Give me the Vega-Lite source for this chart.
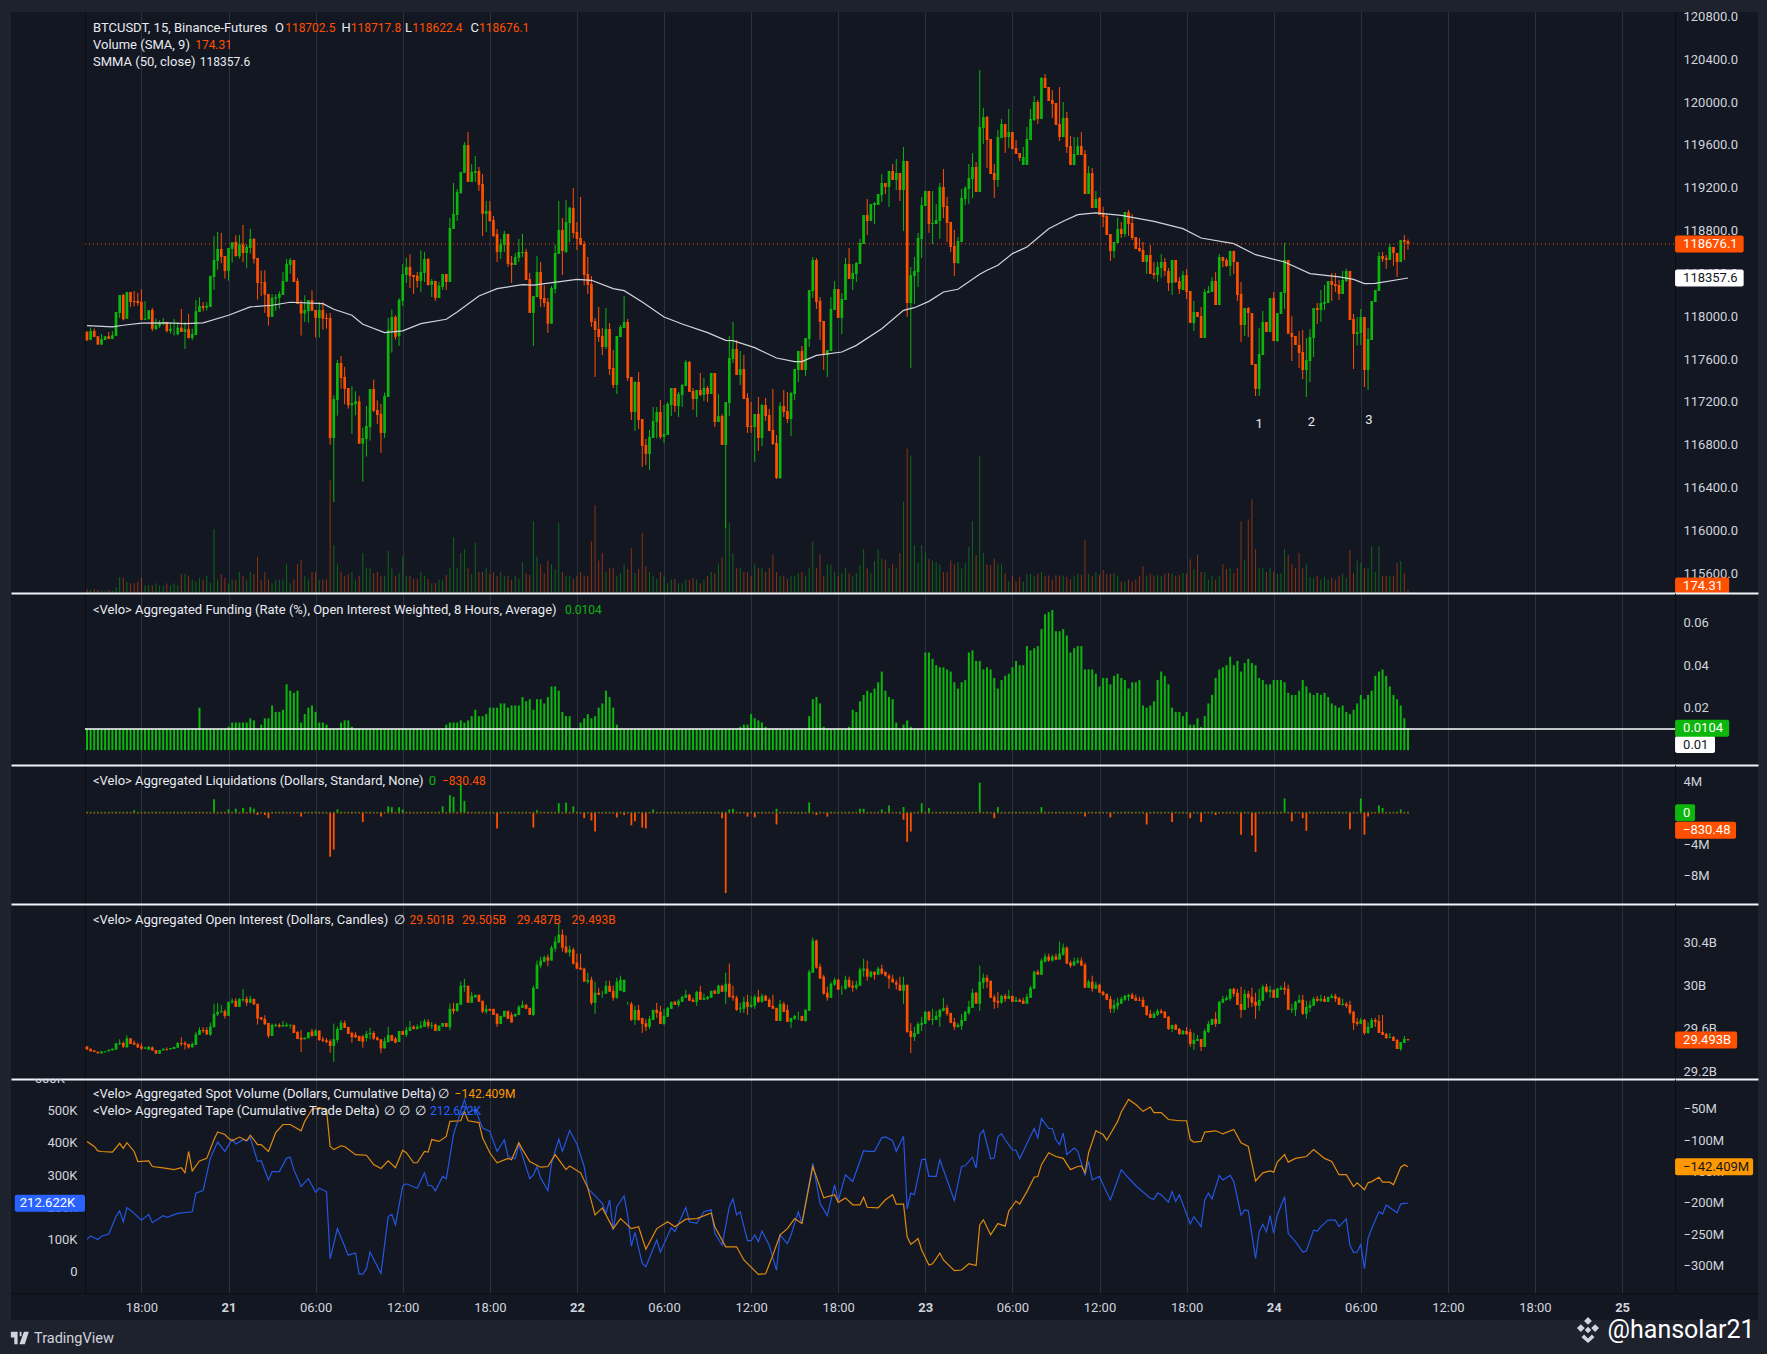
{
"$schema":"https://vega.github.io/schema/vega-lite/v6.json",
"background":"#1e222d",
"padding":{"left":10,"top":10,"right":10,"bottom":0},
"bounds":"flush",
"spacing":0,
"config":{
"view":{"fill":"#131722","stroke":null},
"axis":{"labelFont":"Roboto","labelFontSize":13,"labelColor":"#d1d4dc","title":null,"ticks":false,"grid":false,"domainColor":"#0b0d13","labelPadding":8},
"text":{"font":"Roboto","fontSize":13,"align":"left","baseline":"middle"}
},
"datasets":{
"bars":[
{"i":0,"o":117853,"h":117863,"l":117769,"c":117776,"v":200,"f":0.01,"u":0.1,"d":-0.1,"oo":29435,"oh":29435,"ol":29404,"oc":29404},
{"i":1,"o":117782,"h":117894,"l":117776,"c":117863,"v":150,"f":0.01,"u":0.1,"d":-0.1,"oo":29413,"oh":29413,"ol":29388,"oc":29388},
{"i":2,"o":117863,"h":117885,"l":117807,"c":117807,"v":200,"f":0.01,"u":0.1,"d":-0.1,"oo":29397,"oh":29397,"ol":29382,"oc":29382},
{"i":3,"o":117813,"h":117813,"l":117735,"c":117735,"v":150,"f":0.01,"u":0.1,"d":-0.1,"oo":29385,"oh":29385,"ol":29369,"oc":29369},
{"i":4,"o":117735,"h":117832,"l":117735,"c":117788,"v":100,"f":0.01,"u":0.1,"d":-0.1,"oo":29369,"oh":29388,"ol":29369,"oc":29388},
{"i":5,"o":117779,"h":117813,"l":117779,"c":117813,"v":100,"f":0.01,"u":0.1,"d":-0.1,"oo":29379,"oh":29388,"ol":29379,"oc":29388},
{"i":6,"o":117813,"h":117853,"l":117788,"c":117788,"v":150,"f":0.01,"u":0.1,"d":-0.1,"oo":29388,"oh":29404,"ol":29388,"oc":29404},
{"i":7,"o":117788,"h":117860,"l":117788,"c":117822,"v":100,"f":0.01,"u":0.1,"d":-0.1,"oo":29397,"oh":29413,"ol":29397,"oc":29413},
{"i":8,"o":117816,"h":118040,"l":117816,"c":118040,"v":300,"f":0.01,"u":0.1,"d":-0.1,"oo":29404,"oh":29463,"ol":29404,"oc":29463},
{"i":9,"o":118031,"h":118199,"l":117984,"c":118199,"v":800,"f":0.01,"u":0.1,"d":-0.1,"oo":29457,"oh":29500,"ol":29447,"oc":29466},
{"i":10,"o":118199,"h":118208,"l":117962,"c":117972,"v":760,"f":0.01,"u":0.1,"d":-0.1,"oo":29466,"oh":29482,"ol":29419,"oc":29432},
{"i":11,"o":117975,"h":118227,"l":117975,"c":118227,"v":570,"f":0.01,"u":0.1,"d":-0.1,"oo":29425,"oh":29538,"ol":29422,"oc":29510},
{"i":12,"o":118227,"h":118227,"l":118087,"c":118134,"v":480,"f":0.01,"u":0.1,"d":-0.1,"oo":29510,"oh":29510,"ol":29457,"oc":29457},
{"i":13,"o":118143,"h":118236,"l":118093,"c":118131,"v":480,"f":0.01,"u":0.3,"d":-0.1,"oo":29469,"oh":29488,"ol":29450,"oc":29450},
{"i":14,"o":118143,"h":118218,"l":118099,"c":118124,"v":570,"f":0.01,"u":0.1,"d":-0.1,"oo":29454,"oh":29469,"ol":29419,"oc":29425},
{"i":15,"o":118134,"h":118252,"l":117966,"c":117966,"v":760,"f":0.01,"u":0.1,"d":-0.1,"oo":29435,"oh":29463,"ol":29400,"oc":29413},
{"i":16,"o":117966,"h":118140,"l":117966,"c":117978,"v":380,"f":0.01,"u":0.1,"d":-0.1,"oo":29413,"oh":29425,"ol":29413,"oc":29425},
{"i":17,"o":117972,"h":118056,"l":117972,"c":118056,"v":380,"f":0.01,"u":0.1,"d":-0.1,"oo":29404,"oh":29432,"ol":29404,"oc":29432},
{"i":18,"o":118059,"h":118078,"l":117860,"c":117882,"v":380,"f":0.01,"u":0.1,"d":-0.1,"oo":29425,"oh":29435,"ol":29391,"oc":29397},
{"i":19,"o":117878,"h":117978,"l":117878,"c":117916,"v":480,"f":0.01,"u":0.1,"d":-0.1,"oo":29400,"oh":29400,"ol":29366,"oc":29366},
{"i":20,"o":117910,"h":117962,"l":117891,"c":117938,"v":380,"f":0.01,"u":0.1,"d":-0.1,"oo":29366,"oh":29400,"ol":29366,"oc":29400},
{"i":21,"o":117934,"h":117984,"l":117916,"c":117947,"v":380,"f":0.01,"u":0.1,"d":-0.1,"oo":29397,"oh":29413,"ol":29397,"oc":29413},
{"i":22,"o":117947,"h":117947,"l":117847,"c":117863,"v":480,"f":0.01,"u":0.1,"d":-0.1,"oo":29410,"oh":29425,"ol":29394,"oc":29404},
{"i":23,"o":117863,"h":117934,"l":117838,"c":117882,"v":380,"f":0.01,"u":0.1,"d":-0.1,"oo":29407,"oh":29419,"ol":29407,"oc":29419},
{"i":24,"o":117832,"h":117975,"l":117822,"c":117835,"v":480,"f":0.01,"u":0.1,"d":-0.1,"oo":29410,"oh":29429,"ol":29410,"oc":29429},
{"i":25,"o":117832,"h":117944,"l":117822,"c":117894,"v":380,"f":0.01,"u":0.1,"d":-0.1,"oo":29422,"oh":29475,"ol":29422,"oc":29466},
{"i":26,"o":117894,"h":118068,"l":117853,"c":117853,"v":950,"f":0.01,"u":0.1,"d":-0.1,"oo":29466,"oh":29519,"ol":29438,"oc":29457},
{"i":27,"o":117853,"h":117947,"l":117695,"c":117882,"v":950,"f":0.01,"u":0.1,"d":-0.1,"oo":29466,"oh":29482,"ol":29404,"oc":29450},
{"i":28,"o":117882,"h":118022,"l":117791,"c":117797,"v":860,"f":0.01,"u":0.1,"d":-0.1,"oo":29457,"oh":29457,"ol":29413,"oc":29425},
{"i":29,"o":117797,"h":117885,"l":117776,"c":117835,"v":670,"f":0.01,"u":0.1,"d":-0.1,"oo":29425,"oh":29472,"ol":29425,"oc":29457},
{"i":30,"o":117825,"h":118152,"l":117825,"c":118047,"v":570,"f":0.01,"u":0.1,"d":-0.1,"oo":29447,"oh":29569,"ol":29447,"oc":29547},
{"i":31,"o":118040,"h":118177,"l":118040,"c":118096,"v":760,"f":0.02,"u":0.1,"d":-0.1,"oo":29541,"oh":29613,"ol":29541,"oc":29588},
{"i":32,"o":118096,"h":118131,"l":118047,"c":118078,"v":670,"f":0.01,"u":0.1,"d":-0.1,"oo":29588,"oh":29613,"ol":29560,"oc":29578},
{"i":33,"o":118081,"h":118134,"l":118053,"c":118096,"v":860,"f":0.01,"u":0.1,"d":-0.1,"oo":29588,"oh":29613,"ol":29541,"oc":29547},
{"i":34,"o":118087,"h":118377,"l":118087,"c":118377,"v":500,"f":0.01,"u":0.1,"d":-0.1,"oo":29544,"oh":29657,"ol":29531,"oc":29619},
{"i":35,"o":118367,"h":118747,"l":118249,"c":118526,"v":3190,"f":0.01,"u":1.7,"d":-0.1,"oo":29613,"oh":29832,"ol":29613,"oc":29738},
{"i":36,"o":118517,"h":118788,"l":118433,"c":118629,"v":670,"f":0.01,"u":0.1,"d":-0.1,"oo":29732,"oh":29838,"ol":29719,"oc":29757},
{"i":37,"o":118629,"h":118778,"l":118495,"c":118554,"v":950,"f":0.01,"u":0.1,"d":-0.1,"oo":29753,"oh":29819,"ol":29750,"oc":29763},
{"i":38,"o":118563,"h":118563,"l":118352,"c":118423,"v":760,"f":0.01,"u":0.1,"d":-0.1,"oo":29763,"oh":29781,"ol":29694,"oc":29719},
{"i":39,"o":118423,"h":118638,"l":118333,"c":118638,"v":480,"f":0.011,"u":0.4,"d":-0.1,"oo":29719,"oh":29850,"ol":29719,"oc":29850},
{"i":40,"o":118629,"h":118691,"l":118501,"c":118691,"v":670,"f":0.013,"u":0.1,"d":-0.1,"oo":29844,"oh":29882,"ol":29835,"oc":29860},
{"i":41,"o":118694,"h":118756,"l":118554,"c":118563,"v":670,"f":0.013,"u":0.5,"d":-0.1,"oo":29860,"oh":29885,"ol":29803,"oc":29803},
{"i":42,"o":118560,"h":118760,"l":118538,"c":118672,"v":1050,"f":0.013,"u":0.1,"d":-0.1,"oo":29803,"oh":29885,"ol":29803,"oc":29875},
{"i":43,"o":118672,"h":118853,"l":118507,"c":118591,"v":860,"f":0.013,"u":0.6,"d":-0.1,"oo":29863,"oh":29969,"ol":29853,"oc":29875},
{"i":44,"o":118591,"h":118672,"l":118451,"c":118647,"v":670,"f":0.013,"u":0.1,"d":-0.1,"oo":29878,"oh":29900,"ol":29813,"oc":29841},
{"i":45,"o":118638,"h":118816,"l":118585,"c":118722,"v":1050,"f":0.015,"u":0.7,"d":-0.1,"oo":29841,"oh":29907,"ol":29841,"oc":29878},
{"i":46,"o":118722,"h":118731,"l":118492,"c":118535,"v":950,"f":0.014,"u":0.5,"d":-0.1,"oo":29878,"oh":29878,"ol":29825,"oc":29825},
{"i":47,"o":118545,"h":118545,"l":118155,"c":118311,"v":1815,"f":0.01,"u":0.1,"d":-0.3,"oo":29832,"oh":29832,"ol":29638,"oc":29694},
{"i":48,"o":118317,"h":118426,"l":118190,"c":118311,"v":670,"f":0.012,"u":0.1,"d":-0.1,"oo":29707,"oh":29707,"ol":29682,"oc":29685},
{"i":49,"o":118320,"h":118429,"l":118031,"c":118202,"v":1050,"f":0.015,"u":0.1,"d":-0.3,"oo":29691,"oh":29725,"ol":29635,"oc":29641},
{"i":50,"o":118208,"h":118208,"l":117913,"c":117994,"v":670,"f":0.015,"u":0.1,"d":-0.7,"oo":29653,"oh":29653,"ol":29513,"oc":29532},
{"i":51,"o":117994,"h":118205,"l":117994,"c":118171,"v":480,"f":0.021,"u":0.1,"d":-0.1,"oo":29532,"oh":29647,"ol":29532,"oc":29635},
{"i":52,"o":118165,"h":118205,"l":118050,"c":118180,"v":670,"f":0.018,"u":0.1,"d":-0.1,"oo":29625,"oh":29647,"ol":29616,"oc":29635},
{"i":53,"o":118171,"h":118233,"l":118071,"c":118208,"v":670,"f":0.018,"u":0.1,"d":-0.1,"oo":29635,"oh":29650,"ol":29610,"oc":29619},
{"i":54,"o":118199,"h":118414,"l":118199,"c":118330,"v":670,"f":0.019,"u":0.1,"d":-0.1,"oo":29619,"oh":29672,"ol":29619,"oc":29632},
{"i":55,"o":118324,"h":118535,"l":118324,"c":118489,"v":1430,"f":0.031,"u":0.1,"d":-0.1,"oo":29622,"oh":29657,"ol":29619,"oc":29635},
{"i":56,"o":118479,"h":118545,"l":118398,"c":118526,"v":480,"f":0.028,"u":0.1,"d":-0.1,"oo":29628,"oh":29641,"ol":29600,"oc":29635},
{"i":57,"o":118526,"h":118526,"l":118320,"c":118320,"v":670,"f":0.027,"u":0.1,"d":-0.1,"oo":29635,"oh":29635,"ol":29560,"oc":29560},
{"i":58,"o":118330,"h":118358,"l":118115,"c":118115,"v":1430,"f":0.028,"u":0.1,"d":-0.1,"oo":29569,"oh":29575,"ol":29503,"oc":29503},
{"i":59,"o":118118,"h":118149,"l":117819,"c":118025,"v":1660,"f":0.013,"u":0.1,"d":-0.5,"oo":29516,"oh":29588,"ol":29382,"oc":29497},
{"i":60,"o":118025,"h":118196,"l":117947,"c":118059,"v":860,"f":0.017,"u":0.1,"d":-0.1,"oo":29500,"oh":29516,"ol":29500,"oc":29516},
{"i":61,"o":118047,"h":118152,"l":117941,"c":118152,"v":670,"f":0.02,"u":0.1,"d":-0.1,"oo":29510,"oh":29566,"ol":29510,"oc":29566},
{"i":62,"o":118152,"h":118243,"l":118050,"c":118050,"v":1050,"f":0.021,"u":0.1,"d":-0.1,"oo":29575,"oh":29600,"ol":29525,"oc":29532},
{"i":63,"o":118059,"h":118059,"l":117801,"c":117984,"v":1050,"f":0.018,"u":0.1,"d":-0.1,"oo":29532,"oh":29594,"ol":29532,"oc":29582},
{"i":64,"o":117984,"h":118134,"l":117801,"c":118059,"v":670,"f":0.013,"u":0.1,"d":-0.1,"oo":29582,"oh":29582,"ol":29485,"oc":29494},
{"i":65,"o":118059,"h":118134,"l":117875,"c":117978,"v":670,"f":0.013,"u":0.1,"d":-0.1,"oo":29500,"oh":29525,"ol":29475,"oc":29485},
{"i":66,"o":117984,"h":118025,"l":117885,"c":117975,"v":670,"f":0.012,"u":0.1,"d":-0.1,"oo":29491,"oh":29513,"ol":29463,"oc":29475},
{"i":67,"o":117984,"h":118031,"l":116801,"c":116863,"v":5640,"f":0.01,"u":0.1,"d":-5.6,"oo":29485,"oh":29500,"ol":29375,"oc":29438},
{"i":68,"o":116863,"h":117262,"l":116266,"c":117225,"v":2390,"f":0.01,"u":0.1,"d":-4.7,"oo":29438,"oh":29647,"ol":29291,"oc":29503},
{"i":69,"o":117218,"h":117592,"l":117072,"c":117564,"v":1430,"f":0.01,"u":0.4,"d":-0.1,"oo":29494,"oh":29619,"ol":29469,"oc":29597},
{"i":70,"o":117564,"h":117629,"l":117324,"c":117424,"v":1050,"f":0.013,"u":0.1,"d":-0.1,"oo":29588,"oh":29678,"ol":29588,"oc":29657},
{"i":71,"o":117433,"h":117527,"l":117178,"c":117321,"v":860,"f":0.014,"u":0.1,"d":-0.1,"oo":29653,"oh":29675,"ol":29607,"oc":29607},
{"i":72,"o":117330,"h":117330,"l":117137,"c":117169,"v":950,"f":0.014,"u":0.1,"d":-0.1,"oo":29616,"oh":29616,"ol":29550,"oc":29550},
{"i":73,"o":117169,"h":117346,"l":116901,"c":117190,"v":1050,"f":0.011,"u":0.1,"d":-0.1,"oo":29560,"oh":29572,"ol":29469,"oc":29519},
{"i":74,"o":117178,"h":117299,"l":117075,"c":117206,"v":670,"f":0.01,"u":0.1,"d":-0.1,"oo":29544,"oh":29569,"ol":29513,"oc":29519},
{"i":75,"o":117206,"h":117253,"l":116810,"c":116810,"v":860,"f":0.01,"u":0.1,"d":-0.1,"oo":29532,"oh":29532,"ol":29485,"oc":29485},
{"i":76,"o":116810,"h":116960,"l":116456,"c":116863,"v":2000,"f":0.01,"u":0.1,"d":-1.2,"oo":29528,"oh":29541,"ol":29422,"oc":29478},
{"i":77,"o":116854,"h":117162,"l":116689,"c":116975,"v":1240,"f":0.01,"u":0.1,"d":-0.1,"oo":29513,"oh":29578,"ol":29482,"oc":29550},
{"i":78,"o":116966,"h":117321,"l":116839,"c":117321,"v":1240,"f":0.01,"u":0.1,"d":-0.1,"oo":29547,"oh":29607,"ol":29500,"oc":29560},
{"i":79,"o":117321,"h":117408,"l":117106,"c":117116,"v":1000,"f":0.01,"u":0.1,"d":-0.1,"oo":29560,"oh":29578,"ol":29494,"oc":29507},
{"i":80,"o":117125,"h":117215,"l":116994,"c":117078,"v":1050,"f":0.01,"u":0.1,"d":-0.1,"oo":29516,"oh":29528,"ol":29488,"oc":29494},
{"i":81,"o":117088,"h":117181,"l":116723,"c":116910,"v":860,"f":0.01,"u":0.1,"d":-0.5,"oo":29500,"oh":29500,"ol":29369,"oc":29416},
{"i":82,"o":116910,"h":117287,"l":116863,"c":117256,"v":860,"f":0.01,"u":0.1,"d":-0.1,"oo":29416,"oh":29519,"ol":29413,"oc":29485},
{"i":83,"o":117246,"h":117984,"l":117246,"c":117872,"v":2100,"f":0.01,"u":0.8,"d":-0.1,"oo":29475,"oh":29616,"ol":29469,"oc":29541},
{"i":84,"o":117863,"h":118062,"l":117660,"c":117994,"v":1240,"f":0.01,"u":0.7,"d":-0.1,"oo":29541,"oh":29541,"ol":29485,"oc":29485},
{"i":85,"o":117994,"h":118009,"l":117782,"c":117807,"v":860,"f":0.01,"u":0.1,"d":-0.1,"oo":29507,"oh":29522,"ol":29463,"oc":29469},
{"i":86,"o":117813,"h":118171,"l":117723,"c":118152,"v":1000,"f":0.01,"u":0.7,"d":-0.1,"oo":29475,"oh":29578,"ol":29475,"oc":29578},
{"i":87,"o":118143,"h":118489,"l":118096,"c":118395,"v":1815,"f":0.01,"u":0.4,"d":-0.1,"oo":29578,"oh":29578,"ol":29541,"oc":29541},
{"i":88,"o":118386,"h":118548,"l":118311,"c":118461,"v":860,"f":0.01,"u":0.1,"d":-0.1,"oo":29541,"oh":29619,"ol":29522,"oc":29588},
{"i":89,"o":118461,"h":118579,"l":118264,"c":118377,"v":860,"f":0.01,"u":0.1,"d":-0.1,"oo":29578,"oh":29672,"ol":29578,"oc":29613},
{"i":90,"o":118386,"h":118386,"l":118208,"c":118367,"v":700,"f":0.01,"u":0.1,"d":-0.1,"oo":29619,"oh":29632,"ol":29591,"oc":29597},
{"i":91,"o":118380,"h":118414,"l":118268,"c":118330,"v":700,"f":0.01,"u":0.1,"d":-0.1,"oo":29597,"oh":29641,"ol":29591,"oc":29619},
{"i":92,"o":118330,"h":118616,"l":118227,"c":118414,"v":1050,"f":0.01,"u":0.1,"d":-0.1,"oo":29610,"oh":29672,"ol":29600,"oc":29628},
{"i":93,"o":118405,"h":118601,"l":118320,"c":118535,"v":860,"f":0.01,"u":0.1,"d":-0.1,"oo":29616,"oh":29688,"ol":29616,"oc":29669},
{"i":94,"o":118535,"h":118545,"l":118286,"c":118292,"v":700,"f":0.01,"u":0.1,"d":-0.1,"oo":29663,"oh":29688,"ol":29603,"oc":29625},
{"i":95,"o":118292,"h":118349,"l":118180,"c":118330,"v":480,"f":0.01,"u":0.1,"d":-0.1,"oo":29622,"oh":29663,"ol":29597,"oc":29632},
{"i":96,"o":118330,"h":118330,"l":118143,"c":118171,"v":500,"f":0.01,"u":0.1,"d":-0.1,"oo":29638,"oh":29647,"ol":29578,"oc":29578},
{"i":97,"o":118171,"h":118320,"l":118171,"c":118286,"v":670,"f":0.01,"u":0.1,"d":-0.1,"oo":29578,"oh":29628,"ol":29578,"oc":29628},
{"i":98,"o":118274,"h":118395,"l":118246,"c":118395,"v":670,"f":0.01,"u":0.8,"d":-0.1,"oo":29619,"oh":29653,"ol":29619,"oc":29653},
{"i":99,"o":118395,"h":118395,"l":118246,"c":118320,"v":900,"f":0.012,"u":0.1,"d":-0.1,"oo":29653,"oh":29653,"ol":29616,"oc":29616},
{"i":100,"o":118320,"h":118918,"l":118320,"c":118825,"v":1240,"f":0.013,"u":2.2,"d":-0.1,"oo":29613,"oh":29835,"ol":29588,"oc":29785},
{"i":101,"o":118816,"h":119245,"l":118816,"c":118956,"v":2800,"f":0.013,"u":2,"d":-0.1,"oo":29785,"oh":29841,"ol":29735,"oc":29763},
{"i":102,"o":118946,"h":119189,"l":118890,"c":119161,"v":1240,"f":0.013,"u":0.1,"d":-0.1,"oo":29763,"oh":29841,"ol":29760,"oc":29835},
{"i":103,"o":119152,"h":119348,"l":119142,"c":119348,"v":2000,"f":0.014,"u":3.6,"d":-0.1,"oo":29822,"oh":30038,"ol":29822,"oc":30000},
{"i":104,"o":119339,"h":119628,"l":119339,"c":119600,"v":2200,"f":0.013,"u":1.5,"d":-0.1,"oo":29988,"oh":30066,"ol":29944,"oc":30000},
{"i":105,"o":119600,"h":119722,"l":119255,"c":119255,"v":1240,"f":0.014,"u":0.1,"d":-0.1,"oo":30000,"oh":30000,"ol":29841,"oc":29841},
{"i":106,"o":119255,"h":119420,"l":119255,"c":119348,"v":950,"f":0.016,"u":0.1,"d":-0.1,"oo":29841,"oh":29944,"ol":29841,"oc":29906},
{"i":107,"o":119339,"h":119497,"l":119255,"c":119357,"v":2520,"f":0.019,"u":0.1,"d":-0.1,"oo":29891,"oh":29916,"ol":29891,"oc":29916},
{"i":108,"o":119357,"h":119395,"l":119171,"c":119227,"v":1050,"f":0.016,"u":0.1,"d":-0.1,"oo":29916,"oh":29916,"ol":29850,"oc":29850},
{"i":109,"o":119236,"h":119329,"l":118750,"c":118956,"v":1050,"f":0.016,"u":0.1,"d":-0.1,"oo":29860,"oh":29860,"ol":29744,"oc":29757},
{"i":110,"o":118956,"h":119077,"l":118788,"c":118984,"v":1240,"f":0.017,"u":0.1,"d":-0.1,"oo":29757,"oh":29822,"ol":29738,"oc":29785},
{"i":111,"o":118984,"h":119077,"l":118881,"c":118890,"v":950,"f":0.02,"u":0.1,"d":-0.1,"oo":29785,"oh":29785,"ol":29766,"oc":29766},
{"i":112,"o":118900,"h":118937,"l":118741,"c":118750,"v":1050,"f":0.02,"u":0.1,"d":-0.1,"oo":29785,"oh":29785,"ol":29728,"oc":29728},
{"i":113,"o":118769,"h":118816,"l":118507,"c":118601,"v":860,"f":0.02,"u":0.1,"d":-2,"oo":29738,"oh":29744,"ol":29616,"oc":29644},
{"i":114,"o":118601,"h":118722,"l":118535,"c":118672,"v":1050,"f":0.022,"u":0.1,"d":-0.1,"oo":29644,"oh":29719,"ol":29644,"oc":29719},
{"i":115,"o":118666,"h":118797,"l":118601,"c":118769,"v":860,"f":0.022,"u":0.1,"d":-0.1,"oo":29710,"oh":29766,"ol":29710,"oc":29766},
{"i":116,"o":118769,"h":118769,"l":118461,"c":118489,"v":860,"f":0.02,"u":0.1,"d":-0.1,"oo":29766,"oh":29766,"ol":29691,"oc":29691},
{"i":117,"o":118498,"h":118563,"l":118311,"c":118479,"v":670,"f":0.021,"u":0.1,"d":-0.1,"oo":29728,"oh":29753,"ol":29657,"oc":29657},
{"i":118,"o":118479,"h":118591,"l":118479,"c":118554,"v":860,"f":0.021,"u":0.1,"d":-0.1,"oo":29713,"oh":29738,"ol":29713,"oc":29738},
{"i":119,"o":118545,"h":118722,"l":118507,"c":118601,"v":700,"f":0.021,"u":0.1,"d":-0.1,"oo":29728,"oh":29819,"ol":29728,"oc":29803},
{"i":120,"o":118591,"h":118769,"l":118554,"c":118601,"v":1530,"f":0.025,"u":0.1,"d":-0.1,"oo":29794,"oh":29860,"ol":29794,"oc":29822},
{"i":121,"o":118601,"h":118629,"l":118339,"c":118339,"v":1000,"f":0.023,"u":0.1,"d":-0.1,"oo":29822,"oh":29832,"ol":29785,"oc":29785},
{"i":122,"o":118349,"h":118405,"l":118031,"c":118031,"v":900,"f":0.024,"u":0.1,"d":-0.1,"oo":29794,"oh":29794,"ol":29728,"oc":29728},
{"i":123,"o":118031,"h":118189,"l":117722,"c":118189,"v":3600,"f":0.019,"u":0.1,"d":-1.9,"oo":29728,"oh":30000,"ol":29719,"oc":29981},
{"i":124,"o":118180,"h":118563,"l":118180,"c":118413,"v":1815,"f":0.024,"u":0.3,"d":-0.1,"oo":29972,"oh":30235,"ol":29972,"oc":30197},
{"i":125,"o":118413,"h":118507,"l":118087,"c":118161,"v":1430,"f":0.024,"u":0.1,"d":-0.1,"oo":30188,"oh":30272,"ol":30163,"oc":30235},
{"i":126,"o":118171,"h":118289,"l":118087,"c":118124,"v":1000,"f":0.022,"u":0.1,"d":-0.1,"oo":30225,"oh":30281,"ol":30219,"oc":30266},
{"i":127,"o":118133,"h":118171,"l":117844,"c":117931,"v":1620,"f":0.025,"u":0.1,"d":-0.1,"oo":30266,"oh":30291,"ol":30181,"oc":30235},
{"i":128,"o":117931,"h":118283,"l":117931,"c":118264,"v":1430,"f":0.03,"u":0.1,"d":-0.1,"oo":30235,"oh":30375,"ol":30235,"oc":30356},
{"i":129,"o":118255,"h":118669,"l":118211,"c":118591,"v":1200,"f":0.03,"u":0.1,"d":-0.1,"oo":30347,"oh":30460,"ol":30319,"oc":30413},
{"i":130,"o":118582,"h":119077,"l":118582,"c":118806,"v":3500,"f":0.028,"u":1.2,"d":-0.1,"oo":30403,"oh":30578,"ol":30397,"oc":30478},
{"i":131,"o":118806,"h":118918,"l":118386,"c":118610,"v":1050,"f":0.018,"u":0.1,"d":-0.1,"oo":30478,"oh":30525,"ol":30319,"oc":30356},
{"i":132,"o":118600,"h":119086,"l":118591,"c":118880,"v":860,"f":0.016,"u":1.3,"d":-0.1,"oo":30366,"oh":30469,"ol":30303,"oc":30310},
{"i":133,"o":118871,"h":119021,"l":118694,"c":119014,"v":860,"f":0.016,"u":0.1,"d":-0.1,"oo":30310,"oh":30375,"ol":30272,"oc":30338},
{"i":134,"o":119011,"h":119198,"l":118731,"c":118778,"v":700,"f":0.01,"u":0.8,"d":-0.1,"oo":30338,"oh":30356,"ol":30197,"oc":30206},
{"i":135,"o":118787,"h":118880,"l":118619,"c":118722,"v":860,"f":0.01,"u":0.1,"d":-0.1,"oo":30216,"oh":30300,"ol":30156,"oc":30159},
{"i":136,"o":118731,"h":119114,"l":118666,"c":118666,"v":1050,"f":0.013,"u":0.1,"d":-0.1,"oo":30169,"oh":30300,"ol":30150,"oc":30150},
{"i":137,"o":118675,"h":118703,"l":118289,"c":118386,"v":860,"f":0.015,"u":0.1,"d":-0.7,"oo":30160,"oh":30169,"ol":30038,"oc":30038},
{"i":138,"o":118395,"h":118554,"l":118208,"c":118292,"v":860,"f":0.017,"u":0.1,"d":-0.1,"oo":30038,"oh":30122,"ol":30019,"oc":30056},
{"i":139,"o":118301,"h":118376,"l":117900,"c":117947,"v":2580,"f":0.015,"u":0.1,"d":-1,"oo":30056,"oh":30085,"ol":29822,"oc":29841},
{"i":140,"o":117956,"h":117984,"l":117433,"c":117872,"v":4390,"f":0.016,"u":0.1,"d":-2.4,"oo":29841,"oh":30038,"ol":29738,"oc":29935},
{"i":141,"o":117881,"h":118087,"l":117760,"c":117806,"v":1620,"f":0.02,"u":0.1,"d":-0.1,"oo":29935,"oh":29981,"ol":29916,"oc":29916},
{"i":142,"o":117816,"h":117890,"l":117638,"c":117713,"v":2000,"f":0.022,"u":0.1,"d":-0.1,"oo":29925,"oh":29953,"ol":29888,"oc":29925},
{"i":143,"o":117713,"h":118077,"l":117694,"c":117881,"v":1050,"f":0.028,"u":0.1,"d":-0.1,"oo":29925,"oh":30047,"ol":29925,"oc":30000},
{"i":144,"o":117881,"h":117937,"l":117451,"c":117507,"v":1240,"f":0.025,"u":0.1,"d":-0.1,"oo":30000,"oh":30047,"ol":29944,"oc":29944},
{"i":145,"o":117517,"h":117685,"l":117330,"c":117358,"v":1240,"f":0.02,"u":0.1,"d":-0.1,"oo":29953,"oh":30000,"ol":29860,"oc":29888},
{"i":146,"o":117358,"h":117816,"l":117274,"c":117816,"v":860,"f":0.012,"u":0.1,"d":-0.6,"oo":29888,"oh":30075,"ol":29878,"oc":30038},
{"i":147,"o":117806,"h":117918,"l":117806,"c":117900,"v":1000,"f":0.01,"u":0.1,"d":-0.1,"oo":29953,"oh":30094,"ol":29953,"oc":30056},
{"i":148,"o":117890,"h":118189,"l":117890,"c":117947,"v":1430,"f":0.01,"u":0.1,"d":-0.3,"oo":29941,"oh":30056,"ol":29941,"oc":30056},
{"i":149,"o":117947,"h":117975,"l":117395,"c":117423,"v":1200,"f":0.01,"u":0.1,"d":-0.1,"oo":29822,"oh":29850,"ol":29822,"oc":29822},
{"i":150,"o":117433,"h":117433,"l":117031,"c":117106,"v":2240,"f":0.01,"u":0.1,"d":-1.6,"oo":29831,"oh":29850,"ol":29672,"oc":29681},
{"i":151,"o":117106,"h":117395,"l":116928,"c":117386,"v":1000,"f":0.01,"u":0.1,"d":-1.1,"oo":29681,"oh":29813,"ol":29635,"oc":29775},
{"i":152,"o":117386,"h":117479,"l":116947,"c":117031,"v":1200,"f":0.01,"u":0.1,"d":-0.1,"oo":29775,"oh":29822,"ol":29672,"oc":29681},
{"i":153,"o":117040,"h":117040,"l":116592,"c":116788,"v":3000,"f":0.01,"u":0.1,"d":-1.9,"oo":29700,"oh":29700,"ol":29560,"oc":29644},
{"i":154,"o":116798,"h":116854,"l":116611,"c":116713,"v":1340,"f":0.01,"u":0.1,"d":-2,"oo":29650,"oh":29688,"ol":29578,"oc":29616},
{"i":155,"o":116713,"h":116938,"l":116564,"c":116872,"v":1050,"f":0.01,"u":0.1,"d":-0.1,"oo":29616,"oh":29719,"ol":29597,"oc":29691},
{"i":156,"o":116863,"h":117152,"l":116863,"c":117022,"v":860,"f":0.01,"u":0.4,"d":-0.1,"oo":29682,"oh":29775,"ol":29682,"oc":29775},
{"i":157,"o":117012,"h":117152,"l":116860,"c":117106,"v":700,"f":0.01,"u":0.1,"d":-0.1,"oo":29775,"oh":29841,"ol":29700,"oc":29747},
{"i":158,"o":117106,"h":117218,"l":116854,"c":116872,"v":1050,"f":0.01,"u":0.1,"d":-0.1,"oo":29757,"oh":29813,"ol":29644,"oc":29644},
{"i":159,"o":116872,"h":117171,"l":116816,"c":116900,"v":860,"f":0.01,"u":0.1,"d":-0.1,"oo":29644,"oh":29785,"ol":29632,"oc":29719},
{"i":160,"o":116891,"h":117199,"l":116891,"c":117181,"v":480,"f":0.01,"u":0.1,"d":-0.1,"oo":29710,"oh":29803,"ol":29710,"oc":29794},
{"i":161,"o":117171,"h":117330,"l":117068,"c":117330,"v":670,"f":0.01,"u":0.1,"d":-0.1,"oo":29785,"oh":29850,"ol":29785,"oc":29850},
{"i":162,"o":117330,"h":117330,"l":117106,"c":117162,"v":700,"f":0.01,"u":0.1,"d":-0.1,"oo":29850,"oh":29860,"ol":29822,"oc":29822},
{"i":163,"o":117162,"h":117293,"l":117059,"c":117274,"v":480,"f":0.01,"u":0.1,"d":-0.1,"oo":29822,"oh":29875,"ol":29803,"oc":29860},
{"i":164,"o":117265,"h":117367,"l":117152,"c":117358,"v":480,"f":0.01,"u":0.1,"d":-0.1,"oo":29850,"oh":29906,"ol":29850,"oc":29897},
{"i":165,"o":117349,"h":117591,"l":117349,"c":117573,"v":670,"f":0.01,"u":0.1,"d":-0.1,"oo":29888,"oh":29963,"ol":29888,"oc":29916},
{"i":166,"o":117573,"h":117582,"l":117293,"c":117293,"v":670,"f":0.01,"u":0.1,"d":-0.1,"oo":29916,"oh":29925,"ol":29860,"oc":29860},
{"i":167,"o":117302,"h":117330,"l":117125,"c":117227,"v":760,"f":0.01,"u":0.1,"d":-0.1,"oo":29869,"oh":29888,"ol":29850,"oc":29850},
{"i":168,"o":117227,"h":117311,"l":117059,"c":117311,"v":670,"f":0.01,"u":0.1,"d":-0.1,"oo":29850,"oh":29953,"ol":29813,"oc":29944},
{"i":169,"o":117311,"h":117470,"l":117255,"c":117265,"v":480,"f":0.01,"u":0.1,"d":-0.1,"oo":29944,"oh":30000,"ol":29869,"oc":29869},
{"i":170,"o":117265,"h":117423,"l":117209,"c":117330,"v":670,"f":0.01,"u":0.1,"d":-0.1,"oo":29869,"oh":29925,"ol":29869,"oc":29888},
{"i":171,"o":117330,"h":117349,"l":117199,"c":117274,"v":860,"f":0.01,"u":0.1,"d":-0.1,"oo":29878,"oh":29906,"ol":29869,"oc":29897},
{"i":172,"o":117274,"h":117470,"l":117274,"c":117470,"v":1050,"f":0.01,"u":0.1,"d":-0.1,"oo":29888,"oh":29953,"ol":29888,"oc":29953},
{"i":173,"o":117470,"h":117470,"l":116966,"c":117012,"v":1000,"f":0.01,"u":0.1,"d":-0.1,"oo":29953,"oh":29963,"ol":29925,"oc":29925},
{"i":174,"o":117012,"h":117274,"l":117012,"c":117068,"v":1430,"f":0.01,"u":0.1,"d":-0.1,"oo":29925,"oh":30010,"ol":29925,"oc":30000},
{"i":175,"o":117068,"h":117087,"l":116798,"c":116798,"v":1800,"f":0.01,"u":0.1,"d":-0.7,"oo":30000,"oh":30010,"ol":29944,"oc":29944},
{"i":176,"o":116798,"h":117199,"l":116020,"c":117199,"v":3600,"f":0.01,"u":0.1,"d":-10.2,"oo":29944,"oh":30122,"ol":29831,"oc":30019},
{"i":177,"o":117190,"h":117816,"l":117068,"c":117610,"v":3500,"f":0.01,"u":0.4,"d":-0.1,"oo":30019,"oh":30207,"ol":29888,"oc":29897},
{"i":178,"o":117601,"h":117947,"l":117563,"c":117694,"v":1980,"f":0.01,"u":0.5,"d":-0.1,"oo":29906,"oh":30000,"ol":29860,"oc":29888},
{"i":179,"o":117694,"h":117778,"l":117451,"c":117451,"v":1240,"f":0.01,"u":0.1,"d":-0.1,"oo":29888,"oh":29906,"ol":29766,"oc":29775},
{"i":180,"o":117451,"h":117675,"l":117358,"c":117507,"v":1240,"f":0.011,"u":0.1,"d":-0.1,"oo":29785,"oh":29841,"ol":29747,"oc":29794},
{"i":181,"o":117507,"h":117638,"l":117227,"c":117227,"v":1050,"f":0.012,"u":0.1,"d":-0.1,"oo":29785,"oh":29897,"ol":29747,"oc":29850},
{"i":182,"o":117237,"h":117283,"l":116910,"c":116966,"v":1050,"f":0.012,"u":0.1,"d":-0.5,"oo":29850,"oh":29916,"ol":29728,"oc":29803},
{"i":183,"o":116975,"h":117199,"l":116910,"c":116966,"v":860,"f":0.017,"u":0.1,"d":-0.1,"oo":29803,"oh":29906,"ol":29794,"oc":29822},
{"i":184,"o":116966,"h":117087,"l":116639,"c":117087,"v":1430,"f":0.015,"u":0.1,"d":-0.6,"oo":29813,"oh":29916,"ol":29785,"oc":29897},
{"i":185,"o":117087,"h":117246,"l":116742,"c":116863,"v":1240,"f":0.014,"u":0.1,"d":-0.1,"oo":29897,"oh":29963,"ol":29841,"oc":29850},
{"i":186,"o":116863,"h":117181,"l":116788,"c":117171,"v":1240,"f":0.013,"u":0.1,"d":-0.1,"oo":29850,"oh":29925,"ol":29841,"oc":29906},
{"i":187,"o":117171,"h":117237,"l":117022,"c":117068,"v":1050,"f":0.011,"u":0.1,"d":-0.1,"oo":29906,"oh":29916,"ol":29860,"oc":29860},
{"i":188,"o":117078,"h":117134,"l":116928,"c":116928,"v":1240,"f":0.01,"u":0.1,"d":-0.1,"oo":29869,"oh":29888,"ol":29803,"oc":29803},
{"i":189,"o":116938,"h":117321,"l":116798,"c":116807,"v":1900,"f":0.01,"u":0.1,"d":-0.1,"oo":29813,"oh":29916,"ol":29785,"oc":29785},
{"i":190,"o":116816,"h":116891,"l":116480,"c":116489,"v":1050,"f":0.01,"u":0.5,"d":-1.5,"oo":29794,"oh":29794,"ol":29672,"oc":29672},
{"i":191,"o":116489,"h":117199,"l":116480,"c":117162,"v":860,"f":0.01,"u":0.1,"d":-0.1,"oo":29672,"oh":29869,"ol":29672,"oc":29831},
{"i":192,"o":117162,"h":117311,"l":117059,"c":117106,"v":860,"f":0.01,"u":0.1,"d":-0.1,"oo":29831,"oh":29850,"ol":29756,"oc":29756},
{"i":193,"o":117115,"h":117293,"l":117003,"c":117040,"v":700,"f":0.01,"u":0.1,"d":-0.1,"oo":29775,"oh":29822,"ol":29663,"oc":29663},
{"i":194,"o":117040,"h":117293,"l":116881,"c":117283,"v":860,"f":0.01,"u":0.1,"d":-0.1,"oo":29663,"oh":29700,"ol":29607,"oc":29700},
{"i":195,"o":117274,"h":117507,"l":117218,"c":117507,"v":860,"f":0.01,"u":0.1,"d":-0.1,"oo":29691,"oh":29728,"ol":29681,"oc":29719},
{"i":196,"o":117498,"h":117676,"l":117386,"c":117676,"v":1000,"f":0.01,"u":0.1,"d":-0.1,"oo":29719,"oh":29757,"ol":29681,"oc":29719},
{"i":197,"o":117676,"h":117722,"l":117498,"c":117498,"v":1050,"f":0.01,"u":0.1,"d":-0.1,"oo":29719,"oh":29719,"ol":29672,"oc":29672},
{"i":198,"o":117498,"h":117797,"l":117442,"c":117797,"v":860,"f":0.01,"u":0.1,"d":-0.1,"oo":29672,"oh":29781,"ol":29663,"oc":29775},
{"i":199,"o":117788,"h":118245,"l":117713,"c":118245,"v":1240,"f":0.016,"u":1.3,"d":-0.1,"oo":29766,"oh":30150,"ol":29766,"oc":30131},
{"i":200,"o":118236,"h":118554,"l":118171,"c":118526,"v":2580,"f":0.024,"u":0.1,"d":-0.1,"oo":30122,"oh":30450,"ol":30122,"oc":30422},
{"i":201,"o":118526,"h":118544,"l":118068,"c":118133,"v":1240,"f":0.025,"u":0.1,"d":-0.3,"oo":30422,"oh":30431,"ol":30160,"oc":30169},
{"i":202,"o":118143,"h":118180,"l":117778,"c":117947,"v":1950,"f":0.022,"u":0.1,"d":-0.1,"oo":30178,"oh":30206,"ol":30066,"oc":30066},
{"i":203,"o":117956,"h":117956,"l":117498,"c":117648,"v":860,"f":0.011,"u":0.1,"d":-0.1,"oo":30085,"oh":30103,"ol":29916,"oc":29925},
{"i":204,"o":117638,"h":117685,"l":117433,"c":117685,"v":1430,"f":0.01,"u":0.1,"d":-0.5,"oo":29935,"oh":29991,"ol":29860,"oc":29888},
{"i":205,"o":117676,"h":118180,"l":117676,"c":118068,"v":1430,"f":0.01,"u":0.1,"d":-0.1,"oo":29888,"oh":30038,"ol":29888,"oc":30019},
{"i":206,"o":118059,"h":118329,"l":118059,"c":118255,"v":1050,"f":0.01,"u":0.1,"d":-0.1,"oo":30010,"oh":30075,"ol":30000,"oc":30056},
{"i":207,"o":118255,"h":118255,"l":117984,"c":117984,"v":860,"f":0.01,"u":0.1,"d":-0.1,"oo":30056,"oh":30066,"ol":29963,"oc":29963},
{"i":208,"o":117984,"h":118217,"l":117834,"c":118161,"v":1000,"f":0.01,"u":0.1,"d":-0.1,"oo":29981,"oh":30000,"ol":29916,"oc":29981},
{"i":209,"o":118152,"h":118544,"l":118152,"c":118488,"v":1240,"f":0.01,"u":0.1,"d":-0.1,"oo":29972,"oh":30094,"ol":29963,"oc":30056},
{"i":210,"o":118488,"h":118638,"l":118348,"c":118348,"v":1000,"f":0.011,"u":0.1,"d":-0.1,"oo":30056,"oh":30085,"ol":29981,"oc":29991},
{"i":211,"o":118348,"h":118488,"l":118245,"c":118404,"v":860,"f":0.019,"u":0.1,"d":-0.1,"oo":30000,"oh":30047,"ol":29944,"oc":29981},
{"i":212,"o":118395,"h":118507,"l":118320,"c":118498,"v":1000,"f":0.018,"u":0.1,"d":-0.1,"oo":29981,"oh":30047,"ol":29963,"oc":30010},
{"i":213,"o":118488,"h":118722,"l":118488,"c":118684,"v":1400,"f":0.023,"u":0.5,"d":-0.1,"oo":30000,"oh":30169,"ol":30000,"oc":30150},
{"i":214,"o":118675,"h":118946,"l":118675,"c":118946,"v":2200,"f":0.026,"u":0.5,"d":-0.1,"oo":30141,"oh":30253,"ol":30085,"oc":30160},
{"i":215,"o":118946,"h":119095,"l":118759,"c":118890,"v":1240,"f":0.028,"u":0.1,"d":-0.1,"oo":30160,"oh":30235,"ol":30047,"oc":30085},
{"i":216,"o":118890,"h":119049,"l":118890,"c":119049,"v":1000,"f":0.027,"u":0.1,"d":-0.1,"oo":30085,"oh":30141,"ol":30075,"oc":30131},
{"i":217,"o":119039,"h":119067,"l":118862,"c":119058,"v":1600,"f":0.029,"u":0.1,"d":-0.1,"oo":30131,"oh":30131,"ol":30056,"oc":30103},
{"i":218,"o":119039,"h":119142,"l":119039,"c":119142,"v":2200,"f":0.032,"u":0.1,"d":-0.1,"oo":30103,"oh":30178,"ol":30103,"oc":30160},
{"i":219,"o":119133,"h":119329,"l":119067,"c":119245,"v":1725,"f":0.037,"u":0.4,"d":-0.1,"oo":30160,"oh":30197,"ol":30103,"oc":30113},
{"i":220,"o":119245,"h":119245,"l":119142,"c":119207,"v":1650,"f":0.028,"u":0.1,"d":-0.1,"oo":30131,"oh":30131,"ol":30085,"oc":30094},
{"i":221,"o":119207,"h":119357,"l":119021,"c":119357,"v":1240,"f":0.025,"u":0.9,"d":-0.1,"oo":30094,"oh":30113,"ol":29972,"oc":30066},
{"i":222,"o":119357,"h":119422,"l":119273,"c":119273,"v":1430,"f":0.024,"u":0.1,"d":-0.1,"oo":30066,"oh":30103,"ol":30031,"oc":30031},
{"i":223,"o":119273,"h":119469,"l":119179,"c":119338,"v":1240,"f":0.013,"u":0.1,"d":-0.1,"oo":30031,"oh":30056,"ol":29963,"oc":30010},
{"i":224,"o":119338,"h":119338,"l":119077,"c":119179,"v":2000,"f":0.01,"u":0.1,"d":-0.1,"oo":30010,"oh":30085,"ol":29953,"oc":29953},
{"i":225,"o":119179,"h":119581,"l":118796,"c":119450,"v":4580,"f":0.012,"u":0.7,"d":-0.9,"oo":29953,"oh":30085,"ol":29831,"oc":30010},
{"i":226,"o":119450,"h":119450,"l":117993,"c":118124,"v":7220,"f":0.014,"u":0.1,"d":-3.7,"oo":30010,"oh":30010,"ol":29560,"oc":29569},
{"i":227,"o":118124,"h":118460,"l":117517,"c":118385,"v":6860,"f":0.011,"u":0.1,"d":-2.4,"oo":29578,"oh":29653,"ol":29372,"oc":29522},
{"i":228,"o":118376,"h":118554,"l":118115,"c":118423,"v":2390,"f":0.01,"u":0.1,"d":-0.1,"oo":29522,"oh":29616,"ol":29485,"oc":29560},
{"i":229,"o":118414,"h":118778,"l":118273,"c":118731,"v":1500,"f":0.01,"u":0.1,"d":-0.1,"oo":29550,"oh":29663,"ol":29550,"oc":29644},
{"i":230,"o":118722,"h":119114,"l":118544,"c":119039,"v":2390,"f":0.01,"u":1.2,"d":-0.1,"oo":29635,"oh":29710,"ol":29578,"oc":29653},
{"i":231,"o":119030,"h":119170,"l":119030,"c":119170,"v":2000,"f":0.046,"u":0.1,"d":-0.1,"oo":29644,"oh":29766,"ol":29644,"oc":29757},
{"i":232,"o":119170,"h":119170,"l":118778,"c":118862,"v":1700,"f":0.046,"u":0.6,"d":-0.1,"oo":29757,"oh":29766,"ol":29672,"oc":29681},
{"i":233,"o":118862,"h":119170,"l":118675,"c":118871,"v":1620,"f":0.043,"u":0.1,"d":-0.1,"oo":29681,"oh":29785,"ol":29635,"oc":29691},
{"i":234,"o":118862,"h":119049,"l":118862,"c":118899,"v":1530,"f":0.04,"u":0.1,"d":-0.1,"oo":29681,"oh":29766,"ol":29681,"oc":29719},
{"i":235,"o":118890,"h":119245,"l":118722,"c":119207,"v":1430,"f":0.039,"u":0.1,"d":-0.1,"oo":29710,"oh":29785,"ol":29616,"oc":29775},
{"i":236,"o":119207,"h":119376,"l":118918,"c":119021,"v":1050,"f":0.039,"u":0.1,"d":-0.1,"oo":29766,"oh":29888,"ol":29760,"oc":29794},
{"i":237,"o":119030,"h":119114,"l":118694,"c":118871,"v":1050,"f":0.038,"u":0.1,"d":-0.1,"oo":29794,"oh":29822,"ol":29719,"oc":29738},
{"i":238,"o":118881,"h":118881,"l":118600,"c":118647,"v":1620,"f":0.037,"u":0.1,"d":-0.1,"oo":29747,"oh":29747,"ol":29653,"oc":29653},
{"i":239,"o":118656,"h":118806,"l":118376,"c":118498,"v":1430,"f":0.032,"u":0.1,"d":-0.1,"oo":29663,"oh":29700,"ol":29588,"oc":29616},
{"i":240,"o":118498,"h":118740,"l":118488,"c":118703,"v":1530,"f":0.029,"u":0.1,"d":-0.1,"oo":29616,"oh":29653,"ol":29607,"oc":29635},
{"i":241,"o":118694,"h":119189,"l":118694,"c":119105,"v":1240,"f":0.032,"u":0.1,"d":-0.1,"oo":29625,"oh":29738,"ol":29588,"oc":29681},
{"i":242,"o":119095,"h":119217,"l":119039,"c":119198,"v":1500,"f":0.033,"u":0.1,"d":-0.1,"oo":29672,"oh":29766,"ol":29672,"oc":29757},
{"i":243,"o":119189,"h":119422,"l":119049,"c":119292,"v":2300,"f":0.046,"u":0.1,"d":-0.1,"oo":29747,"oh":29860,"ol":29728,"oc":29803},
{"i":244,"o":119282,"h":119525,"l":119105,"c":119394,"v":3600,"f":0.047,"u":0.1,"d":-0.1,"oo":29794,"oh":29972,"ol":29794,"oc":29935},
{"i":245,"o":119394,"h":119441,"l":119161,"c":119161,"v":1900,"f":0.042,"u":0.1,"d":-0.1,"oo":29935,"oh":29944,"ol":29832,"oc":29832},
{"i":246,"o":119161,"h":120300,"l":119161,"c":119768,"v":6860,"f":0.042,"u":3.8,"d":-0.1,"oo":29832,"oh":30188,"ol":29766,"oc":30038},
{"i":247,"o":119759,"h":119945,"l":119609,"c":119861,"v":2000,"f":0.038,"u":0.1,"d":-0.1,"oo":30028,"oh":30113,"ol":29972,"oc":30075},
{"i":248,"o":119861,"h":119871,"l":119385,"c":119646,"v":1430,"f":0.039,"u":0.1,"d":-0.1,"oo":30075,"oh":30103,"ol":29981,"oc":30038},
{"i":249,"o":119656,"h":119656,"l":119329,"c":119329,"v":1400,"f":0.038,"u":0.1,"d":-0.1,"oo":30047,"oh":30047,"ol":29888,"oc":29888},
{"i":250,"o":119338,"h":119422,"l":119105,"c":119273,"v":1720,"f":0.034,"u":0.1,"d":-0.7,"oo":29897,"oh":29916,"ol":29785,"oc":29850},
{"i":251,"o":119273,"h":119740,"l":119207,"c":119674,"v":1430,"f":0.029,"u":0.7,"d":-0.1,"oo":29860,"oh":29944,"ol":29794,"oc":29841},
{"i":252,"o":119665,"h":119843,"l":119665,"c":119796,"v":1430,"f":0.033,"u":0.1,"d":-0.1,"oo":29841,"oh":29916,"ol":29831,"oc":29906},
{"i":253,"o":119796,"h":119796,"l":119525,"c":119674,"v":1000,"f":0.035,"u":0.1,"d":-0.1,"oo":29906,"oh":29925,"ol":29850,"oc":29878},
{"i":254,"o":119674,"h":119936,"l":119572,"c":119721,"v":570,"f":0.036,"u":0.1,"d":-0.1,"oo":29878,"oh":29963,"ol":29875,"oc":29906},
{"i":255,"o":119721,"h":119721,"l":119562,"c":119562,"v":860,"f":0.039,"u":0.1,"d":-0.1,"oo":29906,"oh":29906,"ol":29850,"oc":29850},
{"i":256,"o":119572,"h":119646,"l":119516,"c":119516,"v":570,"f":0.042,"u":0.1,"d":-0.1,"oo":29850,"oh":29897,"ol":29850,"oc":29869},
{"i":257,"o":119525,"h":119525,"l":119450,"c":119478,"v":800,"f":0.04,"u":0.1,"d":-0.1,"oo":29869,"oh":29882,"ol":29850,"oc":29850},
{"i":258,"o":119413,"h":119581,"l":119413,"c":119488,"v":570,"f":0.04,"u":0.1,"d":-0.1,"oo":29860,"oh":29888,"ol":29832,"oc":29832},
{"i":259,"o":119413,"h":119768,"l":119413,"c":119656,"v":960,"f":0.049,"u":0.1,"d":-0.1,"oo":29832,"oh":29925,"ol":29832,"oc":29897},
{"i":260,"o":119646,"h":119936,"l":119646,"c":119843,"v":960,"f":0.047,"u":0.1,"d":-0.1,"oo":29888,"oh":30000,"ol":29888,"oc":29981},
{"i":261,"o":119833,"h":120057,"l":119824,"c":120001,"v":860,"f":0.048,"u":0.1,"d":-0.1,"oo":29972,"oh":30141,"ol":29972,"oc":30131},
{"i":262,"o":120001,"h":120020,"l":119796,"c":119843,"v":960,"f":0.049,"u":0.1,"d":-0.1,"oo":30131,"oh":30150,"ol":30103,"oc":30103},
{"i":263,"o":119843,"h":120235,"l":119843,"c":120226,"v":1050,"f":0.057,"u":0.7,"d":-0.1,"oo":30103,"oh":30253,"ol":30103,"oc":30235},
{"i":264,"o":120226,"h":120263,"l":120132,"c":120132,"v":860,"f":0.064,"u":0.1,"d":-0.1,"oo":30225,"oh":30300,"ol":30216,"oc":30272},
{"i":265,"o":120141,"h":120141,"l":120011,"c":120011,"v":860,"f":0.065,"u":0.1,"d":-0.1,"oo":30272,"oh":30300,"ol":30225,"oc":30235},
{"i":266,"o":120020,"h":120113,"l":119852,"c":119983,"v":670,"f":0.066,"u":0.1,"d":-0.1,"oo":30235,"oh":30291,"ol":30225,"oc":30272},
{"i":267,"o":119992,"h":119992,"l":119787,"c":119787,"v":900,"f":0.056,"u":0.1,"d":-0.1,"oo":30272,"oh":30300,"ol":30238,"oc":30244},
{"i":268,"o":119796,"h":120141,"l":119637,"c":119674,"v":860,"f":0.056,"u":0.1,"d":-0.1,"oo":30244,"oh":30413,"ol":30244,"oc":30300},
{"i":269,"o":119674,"h":120001,"l":119674,"c":119852,"v":860,"f":0.057,"u":0.1,"d":-0.1,"oo":30291,"oh":30394,"ol":30281,"oc":30356},
{"i":270,"o":119852,"h":119908,"l":119525,"c":119581,"v":800,"f":0.054,"u":0.1,"d":-0.1,"oo":30356,"oh":30366,"ol":30206,"oc":30206},
{"i":271,"o":119590,"h":119684,"l":119413,"c":119413,"v":700,"f":0.046,"u":0.1,"d":-0.1,"oo":30216,"oh":30235,"ol":30169,"oc":30188},
{"i":272,"o":119413,"h":119674,"l":119413,"c":119516,"v":860,"f":0.048,"u":0.1,"d":-0.1,"oo":30188,"oh":30263,"ol":30188,"oc":30225},
{"i":273,"o":119506,"h":119674,"l":119506,"c":119590,"v":960,"f":0.049,"u":0.1,"d":-0.1,"oo":30216,"oh":30263,"ol":30206,"oc":30235},
{"i":274,"o":119590,"h":119721,"l":119506,"c":119506,"v":900,"f":0.049,"u":0.1,"d":-0.1,"oo":30235,"oh":30263,"ol":30188,"oc":30188},
{"i":275,"o":119516,"h":119553,"l":119142,"c":119142,"v":2650,"f":0.038,"u":0.1,"d":-0.5,"oo":30197,"oh":30216,"ol":29981,"oc":29981},
{"i":276,"o":119142,"h":119404,"l":119142,"c":119338,"v":960,"f":0.038,"u":0.1,"d":-0.1,"oo":29981,"oh":30056,"ol":29981,"oc":30038},
{"i":277,"o":119338,"h":119385,"l":119011,"c":119011,"v":860,"f":0.038,"u":0.1,"d":-0.1,"oo":30038,"oh":30094,"ol":29944,"oc":29972},
{"i":278,"o":119011,"h":119170,"l":119011,"c":119095,"v":1050,"f":0.036,"u":0.1,"d":-0.1,"oo":29972,"oh":30038,"ol":29972,"oc":30010},
{"i":279,"o":119105,"h":119114,"l":118946,"c":118946,"v":900,"f":0.03,"u":0.1,"d":-0.1,"oo":30010,"oh":30019,"ol":29935,"oc":29935},
{"i":280,"o":118955,"h":119021,"l":118834,"c":118927,"v":1150,"f":0.034,"u":0.1,"d":-0.1,"oo":29944,"oh":29953,"ol":29907,"oc":29916},
{"i":281,"o":118936,"h":118955,"l":118759,"c":118759,"v":960,"f":0.034,"u":0.1,"d":-0.1,"oo":29925,"oh":29925,"ol":29869,"oc":29869},
{"i":282,"o":118768,"h":118768,"l":118516,"c":118610,"v":960,"f":0.031,"u":0.1,"d":-0.6,"oo":29878,"oh":29906,"ol":29747,"oc":29785},
{"i":283,"o":118610,"h":118694,"l":118544,"c":118694,"v":1000,"f":0.035,"u":0.1,"d":-0.1,"oo":29785,"oh":29869,"ol":29747,"oc":29822},
{"i":284,"o":118684,"h":118918,"l":118684,"c":118815,"v":860,"f":0.036,"u":0.1,"d":-0.1,"oo":29813,"oh":29888,"ol":29775,"oc":29841},
{"i":285,"o":118815,"h":118880,"l":118731,"c":118768,"v":570,"f":0.034,"u":0.1,"d":-0.1,"oo":29832,"oh":29897,"ol":29832,"oc":29878},
{"i":286,"o":118768,"h":118974,"l":118740,"c":118974,"v":570,"f":0.033,"u":0.1,"d":-0.1,"oo":29869,"oh":29916,"ol":29860,"oc":29906},
{"i":287,"o":118974,"h":118993,"l":118750,"c":118862,"v":670,"f":0.029,"u":0.1,"d":-0.1,"oo":29897,"oh":29925,"ol":29860,"oc":29916},
{"i":288,"o":118871,"h":118955,"l":118712,"c":118731,"v":570,"f":0.032,"u":0.1,"d":-0.1,"oo":29916,"oh":29935,"ol":29878,"oc":29878},
{"i":289,"o":118740,"h":118740,"l":118628,"c":118628,"v":670,"f":0.032,"u":0.1,"d":-0.1,"oo":29888,"oh":29916,"ol":29860,"oc":29860},
{"i":290,"o":118638,"h":118731,"l":118600,"c":118610,"v":860,"f":0.033,"u":0.1,"d":-0.1,"oo":29869,"oh":29897,"ol":29860,"oc":29860},
{"i":291,"o":118619,"h":118694,"l":118507,"c":118507,"v":1340,"f":0.021,"u":0.1,"d":-0.1,"oo":29869,"oh":29897,"ol":29803,"oc":29803},
{"i":292,"o":118507,"h":118572,"l":118395,"c":118572,"v":860,"f":0.02,"u":0.1,"d":-1.5,"oo":29813,"oh":29813,"ol":29719,"oc":29728},
{"i":293,"o":118572,"h":118666,"l":118395,"c":118395,"v":960,"f":0.021,"u":0.1,"d":-0.1,"oo":29738,"oh":29775,"ol":29700,"oc":29700},
{"i":294,"o":118404,"h":118507,"l":118348,"c":118385,"v":860,"f":0.023,"u":0.1,"d":-0.1,"oo":29700,"oh":29757,"ol":29700,"oc":29738},
{"i":295,"o":118385,"h":118507,"l":118320,"c":118460,"v":900,"f":0.033,"u":0.1,"d":-0.1,"oo":29728,"oh":29785,"ol":29719,"oc":29766},
{"i":296,"o":118451,"h":118582,"l":118357,"c":118507,"v":860,"f":0.037,"u":0.1,"d":-0.1,"oo":29766,"oh":29785,"ol":29738,"oc":29747},
{"i":297,"o":118507,"h":118544,"l":118376,"c":118423,"v":960,"f":0.035,"u":0.1,"d":-0.1,"oo":29757,"oh":29766,"ol":29700,"oc":29700},
{"i":298,"o":118423,"h":118451,"l":118236,"c":118311,"v":1000,"f":0.031,"u":0.1,"d":-0.1,"oo":29710,"oh":29719,"ol":29588,"oc":29597},
{"i":299,"o":118311,"h":118526,"l":118199,"c":118526,"v":960,"f":0.02,"u":0.1,"d":-1.2,"oo":29597,"oh":29635,"ol":29569,"oc":29635},
{"i":300,"o":118526,"h":118526,"l":118311,"c":118320,"v":860,"f":0.018,"u":0.1,"d":-0.1,"oo":29635,"oh":29644,"ol":29588,"oc":29588},
{"i":301,"o":118329,"h":118367,"l":118208,"c":118255,"v":900,"f":0.018,"u":0.1,"d":-0.1,"oo":29597,"oh":29607,"ol":29541,"oc":29550},
{"i":302,"o":118245,"h":118423,"l":118245,"c":118385,"v":1000,"f":0.016,"u":0.1,"d":-0.1,"oo":29550,"oh":29588,"ol":29541,"oc":29578},
{"i":303,"o":118385,"h":118441,"l":118161,"c":118227,"v":960,"f":0.018,"u":0.1,"d":-0.1,"oo":29578,"oh":29616,"ol":29541,"oc":29550},
{"i":304,"o":118236,"h":118236,"l":117937,"c":117937,"v":1680,"f":0.012,"u":0.1,"d":-0.7,"oo":29569,"oh":29597,"ol":29429,"oc":29457},
{"i":305,"o":117937,"h":118143,"l":117862,"c":118040,"v":1200,"f":0.012,"u":0.1,"d":-0.1,"oo":29457,"oh":29560,"ol":29400,"oc":29494},
{"i":306,"o":118040,"h":118040,"l":117993,"c":117993,"v":1900,"f":0.015,"u":0.1,"d":-0.1,"oo":29485,"oh":29541,"ol":29485,"oc":29503},
{"i":307,"o":118002,"h":118087,"l":117797,"c":117797,"v":1050,"f":0.011,"u":0.1,"d":-1.2,"oo":29503,"oh":29503,"ol":29391,"oc":29429},
{"i":308,"o":117797,"h":118255,"l":117797,"c":118227,"v":1050,"f":0.016,"u":0.1,"d":-0.1,"oo":29429,"oh":29597,"ol":29429,"oc":29578},
{"i":309,"o":118217,"h":118283,"l":118217,"c":118236,"v":670,"f":0.022,"u":0.1,"d":-0.1,"oo":29569,"oh":29672,"ol":29560,"oc":29644},
{"i":310,"o":118227,"h":118367,"l":118227,"c":118329,"v":860,"f":0.026,"u":0.1,"d":-0.1,"oo":29635,"oh":29691,"ol":29635,"oc":29691},
{"i":311,"o":118329,"h":118413,"l":118105,"c":118105,"v":670,"f":0.034,"u":0.1,"d":-0.3,"oo":29691,"oh":29757,"ol":29616,"oc":29644},
{"i":312,"o":118105,"h":118582,"l":118105,"c":118554,"v":860,"f":0.038,"u":0.1,"d":-0.1,"oo":29644,"oh":29860,"ol":29644,"oc":29850},
{"i":313,"o":118554,"h":118554,"l":118460,"c":118516,"v":1430,"f":0.039,"u":0.1,"d":-0.1,"oo":29841,"oh":29906,"ol":29841,"oc":29878},
{"i":314,"o":118526,"h":118544,"l":118460,"c":118470,"v":1200,"f":0.04,"u":0.1,"d":-0.1,"oo":29869,"oh":29906,"ol":29860,"oc":29888},
{"i":315,"o":118470,"h":118610,"l":118376,"c":118610,"v":1240,"f":0.044,"u":0.1,"d":-0.1,"oo":29878,"oh":29972,"ol":29860,"oc":29972},
{"i":316,"o":118610,"h":118610,"l":118395,"c":118507,"v":1000,"f":0.04,"u":0.1,"d":-0.1,"oo":29972,"oh":29981,"ol":29897,"oc":29925},
{"i":317,"o":118507,"h":118507,"l":118143,"c":118199,"v":1240,"f":0.042,"u":0.1,"d":-0.1,"oo":29935,"oh":29972,"ol":29822,"oc":29822},
{"i":318,"o":118208,"h":118320,"l":117760,"c":117918,"v":3580,"f":0.037,"u":0.1,"d":-2.8,"oo":29831,"oh":29991,"ol":29700,"oc":29775},
{"i":319,"o":117918,"h":118077,"l":117816,"c":118077,"v":1620,"f":0.041,"u":0.1,"d":-0.1,"oo":29775,"oh":29963,"ol":29775,"oc":29925},
{"i":320,"o":118077,"h":118087,"l":117806,"c":118030,"v":3680,"f":0.043,"u":0.1,"d":-0.1,"oo":29925,"oh":29953,"ol":29794,"oc":29888},
{"i":321,"o":118030,"h":118030,"l":117545,"c":117545,"v":4680,"f":0.041,"u":0.1,"d":-2.9,"oo":29897,"oh":29981,"ol":29803,"oc":29841},
{"i":322,"o":117554,"h":117554,"l":117255,"c":117321,"v":2200,"f":0.04,"u":0.1,"d":-5,"oo":29850,"oh":29935,"ol":29691,"oc":29813},
{"i":323,"o":117321,"h":117890,"l":117255,"c":117648,"v":1240,"f":0.034,"u":0.1,"d":-0.1,"oo":29813,"oh":29972,"ol":29766,"oc":29869},
{"i":324,"o":117638,"h":118049,"l":117638,"c":117947,"v":1240,"f":0.033,"u":0.1,"d":-0.1,"oo":29860,"oh":30010,"ol":29860,"oc":29991},
{"i":325,"o":117947,"h":117947,"l":117853,"c":117853,"v":1050,"f":0.031,"u":0.1,"d":-0.1,"oo":29991,"oh":30019,"ol":29935,"oc":29944},
{"i":326,"o":117853,"h":118171,"l":117853,"c":118171,"v":1240,"f":0.031,"u":0.1,"d":-0.1,"oo":29944,"oh":30000,"ol":29888,"oc":29963},
{"i":327,"o":118171,"h":118227,"l":117769,"c":117769,"v":1050,"f":0.033,"u":0.1,"d":-0.1,"oo":29963,"oh":29963,"ol":29888,"oc":29888},
{"i":328,"o":117769,"h":118030,"l":117760,"c":118030,"v":960,"f":0.033,"u":0.1,"d":-0.1,"oo":29888,"oh":29981,"ol":29888,"oc":29972},
{"i":329,"o":118021,"h":118227,"l":118021,"c":118227,"v":1000,"f":0.033,"u":0.1,"d":-0.1,"oo":29963,"oh":30000,"ol":29963,"oc":29981},
{"i":330,"o":118217,"h":118684,"l":118068,"c":118526,"v":2200,"f":0.032,"u":1.8,"d":-0.1,"oo":29981,"oh":30038,"ol":29916,"oc":29963},
{"i":331,"o":118526,"h":118526,"l":117837,"c":117837,"v":1910,"f":0.027,"u":0.1,"d":-0.1,"oo":29972,"oh":30010,"ol":29775,"oc":29775},
{"i":332,"o":117844,"h":118000,"l":117582,"c":117806,"v":1430,"f":0.026,"u":0.1,"d":-1.1,"oo":29775,"oh":29832,"ol":29747,"oc":29785},
{"i":333,"o":117816,"h":117816,"l":117732,"c":117732,"v":1240,"f":0.026,"u":0.1,"d":-0.1,"oo":29775,"oh":29860,"ol":29719,"oc":29850},
{"i":334,"o":117732,"h":117862,"l":117517,"c":117657,"v":2010,"f":0.028,"u":0.1,"d":-0.1,"oo":29841,"oh":29916,"ol":29841,"oc":29869},
{"i":335,"o":117666,"h":117872,"l":117414,"c":117498,"v":1240,"f":0.033,"u":0.1,"d":-0.7,"oo":29869,"oh":29916,"ol":29728,"oc":29738},
{"i":336,"o":117498,"h":117797,"l":117246,"c":117591,"v":1430,"f":0.03,"u":0.1,"d":-2.3,"oo":29738,"oh":29860,"ol":29691,"oc":29803},
{"i":337,"o":117582,"h":117881,"l":117386,"c":117806,"v":800,"f":0.027,"u":0.1,"d":-0.1,"oo":29794,"oh":29860,"ol":29757,"oc":29822},
{"i":338,"o":117797,"h":118077,"l":117619,"c":118077,"v":760,"f":0.026,"u":0.1,"d":-0.1,"oo":29813,"oh":29897,"ol":29813,"oc":29878},
{"i":339,"o":118077,"h":118124,"l":117928,"c":118058,"v":860,"f":0.027,"u":0.1,"d":-0.1,"oo":29878,"oh":29906,"ol":29850,"oc":29860},
{"i":340,"o":118058,"h":118245,"l":117947,"c":118124,"v":670,"f":0.026,"u":0.1,"d":-0.1,"oo":29860,"oh":29916,"ol":29850,"oc":29878},
{"i":341,"o":118115,"h":118292,"l":118058,"c":118133,"v":800,"f":0.027,"u":0.1,"d":-0.1,"oo":29878,"oh":29906,"ol":29850,"oc":29850},
{"i":342,"o":118124,"h":118329,"l":118124,"c":118329,"v":670,"f":0.025,"u":0.1,"d":-0.1,"oo":29850,"oh":29897,"ol":29850,"oc":29897},
{"i":343,"o":118329,"h":118404,"l":118143,"c":118292,"v":760,"f":0.022,"u":0.1,"d":-0.1,"oo":29888,"oh":29925,"ol":29882,"oc":29906},
{"i":344,"o":118301,"h":118404,"l":118227,"c":118283,"v":670,"f":0.021,"u":0.1,"d":-0.1,"oo":29906,"oh":29925,"ol":29850,"oc":29878},
{"i":345,"o":118292,"h":118339,"l":118152,"c":118208,"v":860,"f":0.02,"u":0.1,"d":-0.1,"oo":29888,"oh":29897,"ol":29822,"oc":29822},
{"i":346,"o":118208,"h":118423,"l":118208,"c":118339,"v":960,"f":0.021,"u":0.1,"d":-0.1,"oo":29822,"oh":29878,"ol":29813,"oc":29832},
{"i":347,"o":118329,"h":118445,"l":118320,"c":118423,"v":760,"f":0.018,"u":0.1,"d":-0.1,"oo":29832,"oh":29850,"ol":29794,"oc":29813},
{"i":348,"o":118423,"h":118423,"l":117965,"c":117965,"v":2150,"f":0.017,"u":0.1,"d":-2.1,"oo":29822,"oh":29860,"ol":29728,"oc":29747},
{"i":349,"o":117975,"h":118021,"l":117507,"c":117834,"v":1000,"f":0.019,"u":0.1,"d":-0.1,"oo":29757,"oh":29766,"ol":29588,"oc":29653},
{"i":350,"o":117834,"h":117993,"l":117728,"c":117853,"v":1620,"f":0.022,"u":0.1,"d":-0.1,"oo":29663,"oh":29700,"ol":29625,"oc":29644},
{"i":351,"o":117844,"h":118068,"l":117732,"c":117993,"v":1500,"f":0.026,"u":1.8,"d":-0.1,"oo":29644,"oh":29700,"ol":29644,"oc":29681},
{"i":352,"o":117993,"h":117993,"l":117339,"c":117498,"v":1240,"f":0.024,"u":0.1,"d":-2.8,"oo":29681,"oh":29691,"ol":29541,"oc":29560},
{"i":353,"o":117498,"h":117890,"l":117311,"c":117788,"v":1240,"f":0.026,"u":0.1,"d":-0.5,"oo":29560,"oh":29663,"ol":29550,"oc":29616},
{"i":354,"o":117778,"h":118143,"l":117778,"c":118143,"v":2340,"f":0.028,"u":0.1,"d":-0.1,"oo":29607,"oh":29700,"ol":29607,"oc":29681},
{"i":355,"o":118133,"h":118245,"l":118133,"c":118245,"v":1050,"f":0.035,"u":0.1,"d":-0.1,"oo":29681,"oh":29700,"ol":29616,"oc":29663},
{"i":356,"o":118236,"h":118600,"l":118236,"c":118563,"v":2340,"f":0.037,"u":0.9,"d":-0.1,"oo":29672,"oh":29728,"ol":29560,"oc":29560},
{"i":357,"o":118563,"h":118600,"l":118507,"c":118535,"v":860,"f":0.038,"u":0.6,"d":-0.1,"oo":29569,"oh":29728,"ol":29541,"oc":29541},
{"i":358,"o":118544,"h":118572,"l":118442,"c":118526,"v":860,"f":0.035,"u":0.1,"d":-0.1,"oo":29550,"oh":29560,"ol":29503,"oc":29513},
{"i":359,"o":118526,"h":118675,"l":118526,"c":118647,"v":860,"f":0.03,"u":0.1,"d":-0.1,"oo":29513,"oh":29560,"ol":29513,"oc":29522},
{"i":360,"o":118647,"h":118647,"l":118470,"c":118591,"v":860,"f":0.026,"u":0.1,"d":-0.1,"oo":29522,"oh":29532,"ol":29485,"oc":29485},
{"i":361,"o":118591,"h":118591,"l":118367,"c":118507,"v":1500,"f":0.024,"u":0.1,"d":-0.1,"oo":29494,"oh":29503,"ol":29410,"oc":29410},
{"i":362,"o":118507,"h":118712,"l":118507,"c":118712,"v":1600,"f":0.021,"u":0.4,"d":-0.1,"oo":29410,"oh":29475,"ol":29391,"oc":29475},
{"i":363,"o":118712,"h":118759,"l":118526,"c":118694,"v":1000,"f":0.015,"u":0.1,"d":-0.1,"oo":29466,"oh":29532,"ol":29466,"oc":29503},
{"i":364,"o":118702.5,"h":118717.8,"l":118622.4,"c":118676.1,"v":174.31,"f":0.0104,"u":0.1,"d":-0.1,"oo":29501,"oh":29505,"ol":29487,"oc":29493}
],
"smma":[{"i":0,"v":117913},{"i":7,"v":117900},{"i":10,"v":117916},{"i":15,"v":117935},{"i":22,"v":117938},{"i":27,"v":117931},{"i":32,"v":117938},{"i":39,"v":118009},{"i":45,"v":118087},{"i":51,"v":118103},{"i":56,"v":118131},{"i":65,"v":118118},{"i":68,"v":118065},{"i":73,"v":118009},{"i":76,"v":117925},{"i":82,"v":117847},{"i":87,"v":117863},{"i":92,"v":117931},{"i":99,"v":117972},{"i":102,"v":118040},{"i":108,"v":118190},{"i":113,"v":118258},{"i":120,"v":118296},{"i":123,"v":118290},{"i":135,"v":118345},{"i":139,"v":118336},{"i":145,"v":118258},{"i":148,"v":118239},{"i":153,"v":118133},{"i":159,"v":117993},{"i":164,"v":117928},{"i":171,"v":117847},{"i":176,"v":117775},{"i":178,"v":117772},{"i":184,"v":117707},{"i":190,"v":117610},{"i":195,"v":117576},{"i":197,"v":117576},{"i":201,"v":117635},{"i":208,"v":117666},{"i":212,"v":117728},{"i":219,"v":117884},{"i":225,"v":118055},{"i":228,"v":118080},{"i":232,"v":118139},{"i":236,"v":118227},{"i":240,"v":118252},{"i":246,"v":118392},{"i":248,"v":118429},{"i":251,"v":118476},{"i":255,"v":118585},{"i":259,"v":118647},{"i":265,"v":118818},{"i":269,"v":118887},{"i":273,"v":118949},{"i":278,"v":118965},{"i":285,"v":118943},{"i":294,"v":118887},{"i":302,"v":118818},{"i":307,"v":118731},{"i":316,"v":118678},{"i":322,"v":118575},{"i":330,"v":118507},{"i":337,"v":118398},{"i":345,"v":118367},{"i":349,"v":118345},{"i":352,"v":118305},{"i":355,"v":118308},{"i":364,"v":118357.6}],
"spot":[{"i":0,"v":-102},{"i":2,"v":-110},{"i":3,"v":-117},{"i":4,"v":-118},{"i":7,"v":-119},{"i":9,"v":-105},{"i":10,"v":-113},{"i":11,"v":-104},{"i":13,"v":-118},{"i":14,"v":-134},{"i":17,"v":-133},{"i":18,"v":-142},{"i":21,"v":-144},{"i":24,"v":-147},{"i":26,"v":-144},{"i":27,"v":-152},{"i":28,"v":-118},{"i":29,"v":-149},{"i":31,"v":-133},{"i":33,"v":-129},{"i":35,"v":-99},{"i":36,"v":-87},{"i":38,"v":-91},{"i":39,"v":-97},{"i":40,"v":-101},{"i":42,"v":-95},{"i":44,"v":-101},{"i":45,"v":-92},{"i":47,"v":-107},{"i":48,"v":-107},{"i":50,"v":-118},{"i":52,"v":-88},{"i":54,"v":-75},{"i":56,"v":-75},{"i":59,"v":-85},{"i":60,"v":-70},{"i":62,"v":-51},{"i":64,"v":-48},{"i":66,"v":-51},{"i":67,"v":-110},{"i":68,"v":-115},{"i":70,"v":-109},{"i":71,"v":-110},{"i":74,"v":-123},{"i":77,"v":-124},{"i":79,"v":-139},{"i":81,"v":-145},{"i":83,"v":-133},{"i":85,"v":-144},{"i":87,"v":-116},{"i":88,"v":-120},{"i":90,"v":-136},{"i":91,"v":-136},{"i":93,"v":-118},{"i":94,"v":-119},{"i":95,"v":-99},{"i":97,"v":-102},{"i":99,"v":-94},{"i":100,"v":-70},{"i":103,"v":-69},{"i":104,"v":-54},{"i":105,"v":-69},{"i":108,"v":-72},{"i":109,"v":-96},{"i":111,"v":-120},{"i":113,"v":-136},{"i":116,"v":-129},{"i":117,"v":-131},{"i":119,"v":-104},{"i":120,"v":-115},{"i":122,"v":-134},{"i":125,"v":-143},{"i":127,"v":-142},{"i":129,"v":-123},{"i":131,"v":-139},{"i":132,"v":-147},{"i":133,"v":-141},{"i":136,"v":-152},{"i":138,"v":-176},{"i":140,"v":-219},{"i":142,"v":-208},{"i":145,"v":-241},{"i":147,"v":-225},{"i":150,"v":-241},{"i":152,"v":-238},{"i":154,"v":-274},{"i":157,"v":-241},{"i":160,"v":-230},{"i":162,"v":-238},{"i":165,"v":-226},{"i":168,"v":-225},{"i":172,"v":-216},{"i":173,"v":-238},{"i":176,"v":-270},{"i":179,"v":-270},{"i":181,"v":-291},{"i":185,"v":-314},{"i":187,"v":-313},{"i":189,"v":-283},{"i":191,"v":-251},{"i":193,"v":-241},{"i":195,"v":-225},{"i":197,"v":-233},{"i":200,"v":-142},{"i":203,"v":-192},{"i":206,"v":-187},{"i":207,"v":-199},{"i":209,"v":-192},{"i":211,"v":-203},{"i":213,"v":-203},{"i":214,"v":-191},{"i":215,"v":-207},{"i":218,"v":-208},{"i":220,"v":-195},{"i":222,"v":-187},{"i":223,"v":-202},{"i":225,"v":-202},{"i":226,"v":-254},{"i":227,"v":-266},{"i":228,"v":-262},{"i":229,"v":-257},{"i":230,"v":-275},{"i":232,"v":-299},{"i":233,"v":-297},{"i":235,"v":-280},{"i":236,"v":-291},{"i":239,"v":-308},{"i":241,"v":-307},{"i":243,"v":-297},{"i":245,"v":-300},{"i":246,"v":-235},{"i":247,"v":-227},{"i":249,"v":-251},{"i":251,"v":-233},{"i":253,"v":-237},{"i":254,"v":-213},{"i":256,"v":-197},{"i":257,"v":-202},{"i":259,"v":-182},{"i":261,"v":-159},{"i":262,"v":-158},{"i":263,"v":-139},{"i":265,"v":-120},{"i":267,"v":-126},{"i":269,"v":-129},{"i":271,"v":-147},{"i":273,"v":-142},{"i":274,"v":-141},{"i":275,"v":-152},{"i":276,"v":-120},{"i":278,"v":-85},{"i":280,"v":-91},{"i":281,"v":-100},{"i":284,"v":-70},{"i":285,"v":-55},{"i":287,"v":-35},{"i":289,"v":-43},{"i":291,"v":-54},{"i":293,"v":-47},{"i":294,"v":-56},{"i":296,"v":-56},{"i":298,"v":-67},{"i":301,"v":-69},{"i":303,"v":-69},{"i":304,"v":-99},{"i":305,"v":-103},{"i":307,"v":-102},{"i":308,"v":-87},{"i":311,"v":-85},{"i":313,"v":-90},{"i":316,"v":-83},{"i":318,"v":-104},{"i":320,"v":-110},{"i":322,"v":-165},{"i":324,"v":-152},{"i":326,"v":-149},{"i":327,"v":-151},{"i":328,"v":-135},{"i":330,"v":-123},{"i":331,"v":-135},{"i":333,"v":-129},{"i":336,"v":-126},{"i":338,"v":-115},{"i":341,"v":-129},{"i":343,"v":-134},{"i":345,"v":-155},{"i":347,"v":-155},{"i":349,"v":-174},{"i":350,"v":-168},{"i":352,"v":-179},{"i":353,"v":-168},{"i":354,"v":-166},{"i":356,"v":-159},{"i":357,"v":-167},{"i":359,"v":-167},{"i":360,"v":-171},{"i":362,"v":-143},{"i":363,"v":-139},{"i":364,"v":-142.409}],
"tape":[{"i":0,"v":100},{"i":1,"v":111},{"i":3,"v":100},{"i":4,"v":110},{"i":6,"v":117},{"i":8,"v":171},{"i":9,"v":189},{"i":10,"v":155},{"i":11,"v":199},{"i":13,"v":181},{"i":15,"v":160},{"i":17,"v":178},{"i":18,"v":152},{"i":21,"v":174},{"i":22,"v":169},{"i":25,"v":181},{"i":29,"v":186},{"i":30,"v":244},{"i":32,"v":252},{"i":34,"v":353},{"i":36,"v":403},{"i":38,"v":374},{"i":40,"v":412},{"i":41,"v":397},{"i":43,"v":410},{"i":44,"v":407},{"i":45,"v":416},{"i":47,"v":343},{"i":48,"v":345},{"i":50,"v":285},{"i":51,"v":311},{"i":53,"v":311},{"i":55,"v":353},{"i":56,"v":356},{"i":57,"v":317},{"i":59,"v":265},{"i":61,"v":289},{"i":63,"v":247},{"i":64,"v":259},{"i":66,"v":249},{"i":67,"v":39},{"i":69,"v":134},{"i":72,"v":51},{"i":74,"v":58},{"i":75,"v":-8},{"i":76,"v":-8},{"i":77,"v":9},{"i":78,"v":61},{"i":81,"v":-6},{"i":83,"v":171},{"i":84,"v":178},{"i":85,"v":145},{"i":87,"v":267},{"i":88,"v":273},{"i":91,"v":259},{"i":93,"v":307},{"i":94,"v":268},{"i":95,"v":267},{"i":96,"v":251},{"i":98,"v":296},{"i":99,"v":289},{"i":101,"v":426},{"i":104,"v":535},{"i":105,"v":494},{"i":107,"v":504},{"i":109,"v":447},{"i":111,"v":436},{"i":113,"v":374},{"i":115,"v":410},{"i":116,"v":358},{"i":118,"v":351},{"i":119,"v":395},{"i":122,"v":289},{"i":123,"v":301},{"i":124,"v":327},{"i":125,"v":291},{"i":127,"v":252},{"i":128,"v":337},{"i":130,"v":412},{"i":131,"v":374},{"i":133,"v":439},{"i":135,"v":397},{"i":137,"v":327},{"i":138,"v":259},{"i":142,"v":212},{"i":143,"v":181},{"i":144,"v":223},{"i":145,"v":129},{"i":146,"v":202},{"i":148,"v":235},{"i":149,"v":174},{"i":150,"v":79},{"i":151,"v":122},{"i":153,"v":25},{"i":154,"v":15},{"i":157,"v":98},{"i":158,"v":61},{"i":161,"v":137},{"i":162,"v":124},{"i":165,"v":200},{"i":166,"v":155},{"i":168,"v":150},{"i":170,"v":186},{"i":172,"v":192},{"i":173,"v":119},{"i":175,"v":82},{"i":177,"v":202},{"i":178,"v":226},{"i":179,"v":176},{"i":180,"v":186},{"i":182,"v":96},{"i":183,"v":96},{"i":184,"v":114},{"i":185,"v":93},{"i":186,"v":126},{"i":188,"v":82},{"i":190,"v":4},{"i":191,"v":114},{"i":193,"v":87},{"i":194,"v":114},{"i":196,"v":186},{"i":197,"v":150},{"i":200,"v":337},{"i":202,"v":212},{"i":204,"v":174},{"i":206,"v":270},{"i":207,"v":220},{"i":209,"v":301},{"i":211,"v":280},{"i":214,"v":376},{"i":215,"v":374},{"i":217,"v":374},{"i":219,"v":416},{"i":220,"v":419},{"i":222,"v":407},{"i":223,"v":374},{"i":225,"v":421},{"i":226,"v":195},{"i":227,"v":244},{"i":228,"v":239},{"i":230,"v":348},{"i":231,"v":350},{"i":232,"v":296},{"i":234,"v":296},{"i":235,"v":348},{"i":237,"v":285},{"i":239,"v":221},{"i":241,"v":327},{"i":242,"v":329},{"i":244,"v":356},{"i":245,"v":322},{"i":246,"v":426},{"i":247,"v":440},{"i":249,"v":351},{"i":250,"v":353},{"i":251,"v":419},{"i":252,"v":429},{"i":253,"v":410},{"i":255,"v":379},{"i":256,"v":377},{"i":257,"v":351},{"i":261,"v":445},{"i":262,"v":416},{"i":263,"v":476},{"i":265,"v":445},{"i":266,"v":445},{"i":267,"v":410},{"i":268,"v":395},{"i":269,"v":431},{"i":270,"v":364},{"i":272,"v":384},{"i":273,"v":374},{"i":275,"v":301},{"i":276,"v":343},{"i":277,"v":285},{"i":279,"v":296},{"i":280,"v":270},{"i":282,"v":223},{"i":284,"v":285},{"i":285,"v":317},{"i":287,"v":291},{"i":289,"v":267},{"i":293,"v":228},{"i":294,"v":225},{"i":295,"v":244},{"i":296,"v":239},{"i":298,"v":216},{"i":299,"v":249},{"i":300,"v":218},{"i":301,"v":239},{"i":304,"v":148},{"i":305,"v":171},{"i":307,"v":140},{"i":308,"v":223},{"i":309,"v":244},{"i":310,"v":226},{"i":312,"v":299},{"i":313,"v":285},{"i":315,"v":299},{"i":316,"v":280},{"i":318,"v":176},{"i":319,"v":192},{"i":320,"v":189},{"i":322,"v":41},{"i":323,"v":124},{"i":324,"v":147},{"i":325,"v":124},{"i":326,"v":174},{"i":327,"v":119},{"i":328,"v":176},{"i":330,"v":233},{"i":331,"v":119},{"i":333,"v":93},{"i":335,"v":61},{"i":336,"v":64},{"i":338,"v":129},{"i":339,"v":126},{"i":340,"v":140},{"i":342,"v":160},{"i":344,"v":160},{"i":345,"v":140},{"i":347,"v":164},{"i":348,"v":82},{"i":349,"v":59},{"i":350,"v":61},{"i":351,"v":84},{"i":352,"v":9},{"i":353,"v":103},{"i":354,"v":134},{"i":356,"v":186},{"i":357,"v":179},{"i":358,"v":207},{"i":361,"v":183},{"i":362,"v":210},{"i":363,"v":212},{"i":364,"v":212.622}],
"times":[{"i":15},{"i":39},{"i":63},{"i":87},{"i":111},{"i":135},{"i":159},{"i":183},{"i":207},{"i":231},{"i":255},{"i":279},{"i":303},{"i":327},{"i":351},{"i":375},{"i":399},{"i":423}],
"legendPrice":[
{"i":1.65,"y":120696,"label":"BTCUSDT, 15, Binance-Futures","kind":"text"},
{"i":51.8,"y":120696,"label":"O","kind":"text"},
{"i":54.6,"y":120696,"label":"118702.5","kind":"down"},
{"i":70.1,"y":120696,"label":"H","kind":"text"},
{"i":72.7,"y":120696,"label":"118717.8","kind":"down"},
{"i":87.6,"y":120696,"label":"L","kind":"text"},
{"i":89.6,"y":120696,"label":"118622.4","kind":"down"},
{"i":105.7,"y":120696,"label":"C","kind":"text"},
{"i":108,"y":120696,"label":"118676.1","kind":"down"},
{"i":1.65,"y":120538,"label":"Volume (SMA, 9)","kind":"text"},
{"i":29.8,"y":120538,"label":"174.31","kind":"down"},
{"i":1.65,"y":120378,"label":"SMMA (50, close)","kind":"text"},
{"i":31.1,"y":120378,"label":"118357.6","kind":"text"},
{"i":322,"y":116994,"label":"1","kind":"text"},
{"i":336.4,"y":117012,"label":"2","kind":"text"},
{"i":352.2,"y":117031,"label":"3","kind":"text"}
],
"pillsPrice":[{"i0":437.6,"i1":456.5,"y":118676.1,"label":"118676.1","kind":"down"},{"i0":437.6,"i1":456.5,"y":118357.6,"label":"118357.6","kind":"white"}],
"pillsVolume":[{"i0":437.6,"i1":452.5,"y":370,"label":"174.31","kind":"down"}],
"levelPrice":[{"i0":-0.55,"i1":437.6,"y":118676.1}],
"legendFunding":[
{"i":1.65,"y":0.0661,"label":"<Velo> Aggregated Funding (Rate (%), Open Interest Weighted, 8 Hours, Average)","kind":"text"},
{"i":131.7,"y":0.0661,"label":"0.0104","kind":"up"}
],
"pillsFunding":[{"i0":437.6,"i1":448.6,"y":0.0026,"label":"0.01","kind":"white"},{"i0":437.6,"i1":452.5,"y":0.0103,"label":"0.0104","kind":"up"}],
"levelFunding":[{"i0":-0.55,"i1":437.6,"y":0.01}],
"legendLiq":[
{"i":1.65,"y":4.04,"label":"<Velo> Aggregated Liquidations (Dollars, Standard, None)","kind":"text"},
{"i":94.2,"y":4.04,"label":"0","kind":"up"},
{"i":97.8,"y":4.04,"label":"−830.48","kind":"down"}
],
"pillsLiq":[{"i0":437.6,"i1":443.1,"y":0,"label":"0","kind":"up"},{"i0":437.6,"i1":454.4,"y":-2.23,"label":"−830.48","kind":"down"}],
"legendOi":[
{"i":1.65,"y":30616,"label":"<Velo> Aggregated Open Interest (Dollars, Candles)","kind":"text"},
{"i":84.6,"y":30616,"label":"∅","kind":"text"},
{"i":88.9,"y":30616,"label":"29.501B","kind":"down"},
{"i":103.3,"y":30616,"label":"29.505B","kind":"down"},
{"i":118.4,"y":30616,"label":"29.487B","kind":"down"},
{"i":133.5,"y":30616,"label":"29.493B","kind":"down"}
],
"pillsOi":[{"i0":437.6,"i1":454.7,"y":29493,"label":"29.493B","kind":"down"}],
"legendFlow":[
{"i":1.65,"y":-26,"label":"<Velo> Aggregated Spot Volume (Dollars, Cumulative Delta)","kind":"text"},
{"i":96.8,"y":-26,"label":"∅","kind":"text"},
{"i":101.3,"y":-26,"label":"−142.409M","kind":"amber"},
{"i":1.65,"y":-53.2,"label":"<Velo> Aggregated Tape (Cumulative Trade Delta)","kind":"text"},
{"i":81.9,"y":-53.2,"label":"∅","kind":"text"},
{"i":86.1,"y":-53.2,"label":"∅","kind":"text"},
{"i":90.4,"y":-53.2,"label":"∅","kind":"text"},
{"i":94.5,"y":-53.2,"label":"212.622K","kind":"blue"}
],
"pillsSpot":[{"i0":437.6,"i1":459.1,"y":-142.409,"label":"−142.409M","kind":"amber"}],
"pillsTape":[{"i0":-19.9,"i1":-0.55,"y":212.622,"label":"212.622K","kind":"blue"}],
"tapeClipped":[{"i":-14.4,"y":600,"label":"600K"}],
"footerText":[{"i":-14.6,"y":19,"label":"TradingView"}],
"footerHandle":[{"i":419,"y":10,"label":"@hansolar21"}],
"footerLogo":[{"i":-18.5,"y":18}],
"footerMark":[{"i":413.6,"y":10}]
},
"vconcat":[
{"width":1747,"height":581,
"layer":[
{"data":{"name":"bars"},"mark":{"type":"rule","strokeWidth":1,"opacity":0.5},
"encoding":{
"x":{"field":"i","type":"quantitative","scale":{"domain":[-20.94,460.45],"nice":false},"axis":{"values":[-0.55,15,39,63,87,111,135,159,183,207,231,255,279,303,327,351,375,399,423],"grid":true,"gridColor":{"condition":{"test":"datum.value < 0","value":"#0b0d13"},"value":"#2d313c"},"labels":false,"domain":false}},
"y":{"field":"v","type":"quantitative","scale":{"domain":[0,29050],"nice":false},"axis":null},
"y2":{"datum":0},
"color":{"condition":{"test":"datum.c >= datum.o","value":"#0cb60c"},"value":"#ff5000"}}},
{"layer":[
{"data":{"name":"bars"},"mark":{"type":"rule","strokeWidth":1},
"encoding":{
"x":{"field":"i","type":"quantitative"},
"y":{"field":"l","type":"quantitative","scale":{"domain":[115415,120842],"nice":false,"zero":false},"axis":{"orient":"right","offset":-83,"values":[120800,120400,120000,119600,119200,118800,118400,118000,117600,117200,116800,116400,116000,115600],"format":".1f","domain":true}},
"y2":{"field":"h"},
"color":{"condition":{"test":"datum.c >= datum.o","value":"#0cb60c"},"value":"#ff5000"}}},
{"data":{"name":"bars"},"mark":{"type":"rule","strokeWidth":2.7},
"encoding":{"x":{"field":"i","type":"quantitative"},"y":{"field":"o","type":"quantitative"},"y2":{"field":"c"},
"color":{"condition":{"test":"datum.c >= datum.o","value":"#0cb60c"},"value":"#ff5000"}}},
{"data":{"name":"smma"},"mark":{"type":"line","strokeWidth":1.2,"color":"#d1d4dc"},
"encoding":{"x":{"field":"i","type":"quantitative"},"y":{"field":"v","type":"quantitative"}}},
{"data":{"name":"levelPrice"},"mark":{"type":"rule","strokeWidth":1,"strokeDash":[1,3],"color":"#ff5000"},
"encoding":{"x":{"field":"i0","type":"quantitative"},"x2":{"field":"i1"},"y":{"field":"y","type":"quantitative"}}},
{"data":{"name":"pillsPrice"},"mark":{"type":"rect","height":17,"cornerRadius":2},
"encoding":{"x":{"field":"i0","type":"quantitative"},"x2":{"field":"i1"},"y":{"field":"y","type":"quantitative"},
"color":{"field":"kind","type":"nominal","legend":null,"scale":{"domain":["text","down","up","blue","amber","white"],"range":["#e8eaf0","#ff5000","#0cb60c","#2962ff","#ff9800","#ffffff"]}}}},
{"data":{"name":"pillsPrice"},"mark":{"type":"text","dx":8},
"encoding":{"x":{"field":"i0","type":"quantitative"},"y":{"field":"y","type":"quantitative"},"text":{"field":"label"},
"color":{"condition":{"test":"datum.kind == 'white' || datum.kind == 'amber'","value":"#131722"},"value":"#ffffff"}}},
{"data":{"name":"legendPrice"},"mark":{"type":"text"},
"encoding":{"x":{"field":"i","type":"quantitative"},"y":{"field":"y","type":"quantitative"},"text":{"field":"label"},
"size":{"condition":{"test":"length(datum.label) > 1 && test(/^[0-9]/, datum.label)","value":12},"value":13},
"color":{"field":"kind","type":"nominal","legend":null,"scale":{"domain":["text","down","up","blue","amber","white"],"range":["#e8eaf0","#ff5000","#0cb60c","#2962ff","#ff9800","#ffffff"]}}}}
]},
{"data":{"name":"pillsVolume"},"mark":{"type":"rect","height":16,"cornerRadius":2,"color":"#ff5000"},
"encoding":{"x":{"field":"i0","type":"quantitative"},"x2":{"field":"i1"},"y":{"field":"y","type":"quantitative","scale":{"domain":[0,29050],"nice":false},"axis":null}}},
{"data":{"name":"pillsVolume"},"mark":{"type":"text","dx":8,"color":"#ffffff"},
"encoding":{"x":{"field":"i0","type":"quantitative"},"y":{"field":"y","type":"quantitative","scale":{"domain":[0,29050],"nice":false},"axis":null},"text":{"field":"label"}}}
],
"resolve":{"scale":{"y":"independent"}}},
{"width":1747,"height":172,
"layer":[
{"data":{"name":"bars"},"mark":{"type":"rule","strokeWidth":2,"color":"#0cb60c"},
"encoding":{
"x":{"field":"i","type":"quantitative","scale":{"domain":[-20.94,460.45],"nice":false},"axis":{"orient":"top","values":[-0.55,15,39,63,87,111,135,159,183,207,231,255,279,303,327,351,375,399,423],"grid":true,"gridColor":{"condition":{"test":"datum.value < 0","value":"#0b0d13"},"value":"#2d313c"},"labels":false,"domain":true,"domainColor":"#f0f3fa","domainWidth":2}},
"y":{"field":"f","type":"quantitative","scale":{"domain":[-0.007,0.074],"nice":false},"axis":{"orient":"right","offset":-83,"values":[0.06,0.04,0.02],"domain":true}},
"y2":{"datum":0}}},
{"data":{"name":"levelFunding"},"mark":{"type":"rule","strokeWidth":1.5,"color":"#ffffff"},
"encoding":{"x":{"field":"i0","type":"quantitative"},"x2":{"field":"i1"},"y":{"field":"y","type":"quantitative"}}},
{"data":{"name":"pillsFunding"},"mark":{"type":"rect","height":17,"cornerRadius":2},
"encoding":{"x":{"field":"i0","type":"quantitative"},"x2":{"field":"i1"},"y":{"field":"y","type":"quantitative"},
"color":{"field":"kind","type":"nominal","legend":null,"scale":{"domain":["text","down","up","blue","amber","white"],"range":["#e8eaf0","#ff5000","#0cb60c","#2962ff","#ff9800","#ffffff"]}}}},
{"data":{"name":"pillsFunding"},"mark":{"type":"text","dx":8},
"encoding":{"x":{"field":"i0","type":"quantitative"},"y":{"field":"y","type":"quantitative"},"text":{"field":"label"},
"color":{"condition":{"test":"datum.kind == 'white' || datum.kind == 'amber'","value":"#131722"},"value":"#ffffff"}}},
{"data":{"name":"legendFunding"},"mark":{"type":"text"},
"encoding":{"x":{"field":"i","type":"quantitative"},"y":{"field":"y","type":"quantitative"},"text":{"field":"label"},
"size":{"condition":{"test":"length(datum.label) > 1 && test(/^[0-9]/, datum.label)","value":12},"value":13},
"color":{"field":"kind","type":"nominal","legend":null,"scale":{"domain":["text","down","up","blue","amber","white"],"range":["#e8eaf0","#ff5000","#0cb60c","#2962ff","#ff9800","#ffffff"]}}}}
]},
{"width":1747,"height":139,
"layer":[
{"data":{"name":"bars"},"mark":{"type":"rule","strokeWidth":1.8,"color":"#0cb60c"},
"encoding":{
"x":{"field":"i","type":"quantitative","scale":{"domain":[-20.94,460.45],"nice":false},"axis":{"orient":"top","values":[-0.55,15,39,63,87,111,135,159,183,207,231,255,279,303,327,351,375,399,423],"grid":true,"gridColor":{"condition":{"test":"datum.value < 0","value":"#0b0d13"},"value":"#2d313c"},"labels":false,"domain":true,"domainColor":"#f0f3fa","domainWidth":2}},
"y":{"field":"u","type":"quantitative","scale":{"domain":[-11.6,6.05],"nice":false},"axis":{"orient":"right","offset":-83,"values":[4,-4,-8],"labelExpr":"(datum.value < 0 ? '−' + abs(datum.value) : datum.value) + 'M'","domain":true}},
"y2":{"datum":0}}},
{"data":{"name":"bars"},"mark":{"type":"rule","strokeWidth":1.8,"color":"#ff5000"},
"encoding":{"x":{"field":"i","type":"quantitative"},"y":{"field":"d","type":"quantitative"},"y2":{"datum":0}}},
{"data":{"name":"pillsLiq"},"mark":{"type":"rect","height":17,"cornerRadius":2},
"encoding":{"x":{"field":"i0","type":"quantitative"},"x2":{"field":"i1"},"y":{"field":"y","type":"quantitative"},
"color":{"field":"kind","type":"nominal","legend":null,"scale":{"domain":["text","down","up","blue","amber","white"],"range":["#e8eaf0","#ff5000","#0cb60c","#2962ff","#ff9800","#ffffff"]}}}},
{"data":{"name":"pillsLiq"},"mark":{"type":"text","dx":8,"color":"#ffffff"},
"encoding":{"x":{"field":"i0","type":"quantitative"},"y":{"field":"y","type":"quantitative"},"text":{"field":"label"}}},
{"data":{"name":"legendLiq"},"mark":{"type":"text"},
"encoding":{"x":{"field":"i","type":"quantitative"},"y":{"field":"y","type":"quantitative"},"text":{"field":"label"},
"size":{"condition":{"test":"length(datum.label) > 1 && test(/^[0-9−]/, datum.label)","value":12},"value":13},
"color":{"field":"kind","type":"nominal","legend":null,"scale":{"domain":["text","down","up","blue","amber","white"],"range":["#e8eaf0","#ff5000","#0cb60c","#2962ff","#ff9800","#ffffff"]}}}}
]},
{"width":1747,"height":175,
"layer":[
{"data":{"name":"bars"},"mark":{"type":"rule","strokeWidth":1},
"encoding":{
"x":{"field":"i","type":"quantitative","scale":{"domain":[-20.94,460.45],"nice":false},"axis":{"orient":"top","values":[-0.55,15,39,63,87,111,135,159,183,207,231,255,279,303,327,351,375,399,423],"grid":true,"gridColor":{"condition":{"test":"datum.value < 0","value":"#0b0d13"},"value":"#2d313c"},"labels":false,"domain":true,"domainColor":"#f0f3fa","domainWidth":2}},
"y":{"field":"ol","type":"quantitative","scale":{"domain":[29130,30763],"nice":false,"zero":false},"axis":{"orient":"right","offset":-83,"values":[30400,30000,29600,29200],"labelExpr":"datum.value / 1000 + 'B'","domain":true}},
"y2":{"field":"oh"},
"color":{"condition":{"test":"datum.oc >= datum.oo","value":"#0cb60c"},"value":"#ff5000"}}},
{"data":{"name":"bars"},"mark":{"type":"rule","strokeWidth":2.7},
"encoding":{"x":{"field":"i","type":"quantitative"},"y":{"field":"oo","type":"quantitative"},"y2":{"field":"oc"},
"color":{"condition":{"test":"datum.oc >= datum.oo","value":"#0cb60c"},"value":"#ff5000"}}},
{"data":{"name":"pillsOi"},"mark":{"type":"rect","height":17,"cornerRadius":2,"color":"#ff5000"},
"encoding":{"x":{"field":"i0","type":"quantitative"},"x2":{"field":"i1"},"y":{"field":"y","type":"quantitative"}}},
{"data":{"name":"pillsOi"},"mark":{"type":"text","dx":8,"color":"#ffffff"},
"encoding":{"x":{"field":"i0","type":"quantitative"},"y":{"field":"y","type":"quantitative"},"text":{"field":"label"}}},
{"data":{"name":"legendOi"},"mark":{"type":"text"},
"encoding":{"x":{"field":"i","type":"quantitative"},"y":{"field":"y","type":"quantitative"},"text":{"field":"label"},
"size":{"condition":{"test":"length(datum.label) > 1 && test(/^[0-9]/, datum.label)","value":12},"value":13},
"color":{"field":"kind","type":"nominal","legend":null,"scale":{"domain":["text","down","up","blue","amber","white"],"range":["#e8eaf0","#ff5000","#0cb60c","#2962ff","#ff9800","#ffffff"]}}}}
]},
{"width":1747,"height":214,
"layer":[
{"layer":[
{"data":{"name":"tape"},"mark":{"type":"line","strokeWidth":1.2,"color":"#2456e0"},
"encoding":{
"x":{"field":"i","type":"quantitative","scale":{"domain":[-20.94,460.45],"nice":false},"axis":{"orient":"top","values":[-0.55,15,39,63,87,111,135,159,183,207,231,255,279,303,327,351,375,399,423],"grid":true,"gridColor":{"condition":{"test":"datum.value < 0","value":"#0b0d13"},"value":"#2d313c"},"labels":false,"domain":true,"domainColor":"#f0f3fa","domainWidth":2}},
"y":{"field":"v","type":"quantitative","scale":{"domain":[-66.6,599],"nice":false},"axis":{"orient":"left","offset":-74,"values":[500,400,300,200,100,0],"labelExpr":"datum.value == 0 ? '0' : datum.value + 'K'","domain":false}}}},
{"data":{"name":"pillsTape"},"mark":{"type":"rect","height":17,"cornerRadius":2,"color":"#2962ff"},
"encoding":{"x":{"field":"i0","type":"quantitative"},"x2":{"field":"i1"},"y":{"field":"y","type":"quantitative"}}},
{"data":{"name":"pillsTape"},"mark":{"type":"text","dx":5,"color":"#ffffff"},
"encoding":{"x":{"field":"i0","type":"quantitative"},"y":{"field":"y","type":"quantitative"},"text":{"field":"label"}}},
{"data":{"name":"tapeClipped"},"mark":{"type":"text","clip":true,"color":"#d1d4dc"},
"encoding":{"x":{"field":"i","type":"quantitative"},"y":{"field":"y","type":"quantitative"},"text":{"field":"label"}}}
]},
{"layer":[
{"data":{"name":"spot"},"mark":{"type":"line","strokeWidth":1.2,"color":"#e08a0e"},
"encoding":{
"x":{"field":"i","type":"quantitative"},
"y":{"field":"v","type":"quantitative","scale":{"domain":[-343.7,-2.4],"nice":false,"zero":false},"axis":{"orient":"right","offset":-83,"values":[-50,-100,-150,-200,-250,-300],"labelExpr":"'−' + abs(datum.value) + 'M'","domain":true}}}},
{"data":{"name":"pillsSpot"},"mark":{"type":"rect","height":17,"cornerRadius":2,"color":"#ff9800"},
"encoding":{"x":{"field":"i0","type":"quantitative"},"x2":{"field":"i1"},"y":{"field":"y","type":"quantitative"}}},
{"data":{"name":"pillsSpot"},"mark":{"type":"text","dx":8,"color":"#131722"},
"encoding":{"x":{"field":"i0","type":"quantitative"},"y":{"field":"y","type":"quantitative"},"text":{"field":"label"}}},
{"data":{"name":"legendFlow"},"mark":{"type":"text"},
"encoding":{"x":{"field":"i","type":"quantitative"},"y":{"field":"y","type":"quantitative"},"text":{"field":"label"},
"size":{"condition":{"test":"length(datum.label) > 1 && test(/^[0-9−]/, datum.label)","value":12},"value":13},
"color":{"field":"kind","type":"nominal","legend":null,"scale":{"domain":["text","down","up","blue","amber","white"],"range":["#e8eaf0","#ff5000","#0cb60c","#2962ff","#ff9800","#ffffff"]}}}}
]}
],
"resolve":{"scale":{"y":"independent"},"axis":{"y":"independent"}}},
{"width":1747,"height":27,
"data":{"name":"times"},
"mark":{"type":"rule","opacity":0},
"encoding":{
"x":{"field":"i","type":"quantitative","scale":{"domain":[-20.94,460.45],"nice":false},"axis":{"orient":"bottom","offset":-27,"values":[15,39,63,87,111,135,159,183,207,231,255,279,303,327,351,375,399,423],"domain":true,"labelAlign":"center","labelExpr":"(datum.value - 15) / 24 % 4 == 1 ? '' + (21 + (datum.value - 39) / 96) : ['18:00', '', '06:00', '12:00'][(datum.value - 15) / 24 % 4]","labelFontWeight":{"condition":{"test":"(datum.value - 15) / 24 % 4 == 1","value":"bold"},"value":"normal"}}}}},
{"width":1747,"height":36,
"view":{"fill":null,"stroke":null},
"layer":[
{"data":{"name":"footerText"},"mark":{"type":"text","fontSize":14.5,"color":"#d1d4dc"},
"encoding":{
"x":{"field":"i","type":"quantitative","scale":{"domain":[-20.94,460.45],"nice":false},"axis":null},
"y":{"field":"y","type":"quantitative","scale":{"domain":[36,0],"nice":false,"zero":false},"axis":null},
"text":{"field":"label"}}},
{"data":{"name":"footerHandle"},"mark":{"type":"text","fontSize":25,"color":"#ffffff"},
"encoding":{"x":{"field":"i","type":"quantitative"},"y":{"field":"y","type":"quantitative"},"text":{"field":"label"}}},
{"data":{"name":"footerLogo"},"mark":{"type":"point","filled":true,"opacity":1,"size":324,"color":"#d1d4dc","shape":"M-1 -.7H-.25V.7H-.62V-.05H-1ZM-.02 -.7H.18V-.2H-.02ZM.45 -.7H1L.55 .7H-.05Z"},
"encoding":{"x":{"field":"i","type":"quantitative"},"y":{"field":"y","type":"quantitative"}}},
{"data":{"name":"footerMark"},"mark":{"type":"point","filled":true,"opacity":1,"size":676,"color":"#d1d4dc","shape":"M0 -1L.3 -.7L0 -.4L-.3 -.7ZM-.55 -.45L-.25 -.15L-.55 .15L-.85 -.15ZM.55 -.45L.85 -.15L.55 .15L.25 -.15ZM0 -.25L.25 0L0 .25L-.25 0ZM-.3 .35L0 .65L.3 .35L.5 .55L0 1L-.5 .55Z"},
"encoding":{"x":{"field":"i","type":"quantitative"},"y":{"field":"y","type":"quantitative"}}}
]}
]
}
